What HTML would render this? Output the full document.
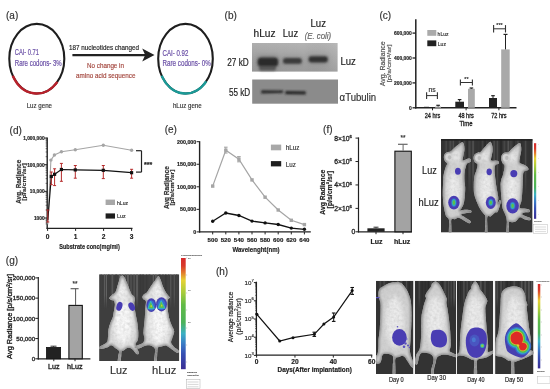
<!DOCTYPE html>
<html><head><meta charset="utf-8"><title>Figure</title>
<style>html,body{margin:0;padding:0;background:#fff;overflow:hidden;} svg{display:block;filter:blur(0.3px);} text{font-family:'Liberation Sans', Arial, sans-serif;}</style>
</head><body>
<svg width="550" height="389" viewBox="0 0 550 389">
<rect width="550" height="389" fill="#fff"/>
<defs><radialGradient id="mfill" cx="0.5" cy="0.45" r="0.62"><stop offset="0" stop-color="#e6e6e6"/><stop offset="0.55" stop-color="#d6d6d6"/><stop offset="0.85" stop-color="#bdbdbd"/><stop offset="1" stop-color="#8e8e8e"/></radialGradient><filter id="soft" x="-5%" y="-5%" width="110%" height="110%"><feGaussianBlur stdDeviation="0.55"/></filter><filter id="soft2" x="-20%" y="-20%" width="140%" height="140%"><feGaussianBlur stdDeviation="0.35"/></filter><filter id="blur2" x="-20%" y="-20%" width="140%" height="140%"><feGaussianBlur stdDeviation="1.1"/></filter><filter id="fur" x="0" y="0" width="100%" height="100%"><feTurbulence type="fractalNoise" baseFrequency="0.35" numOctaves="2" seed="3"/><feColorMatrix type="matrix" values="0 0 0 0 0.5  0 0 0 0 0.5  0 0 0 0 0.5  0.9 0.9 0.9 0 -1.1"/></filter><filter id="blur3" x="-50%" y="-50%" width="200%" height="200%"><feGaussianBlur stdDeviation="2.5"/></filter></defs>
<text x="6.00" y="18.60" font-size="10" fill="#333" stroke="#333" stroke-width="0.18" >(a)</text>
<ellipse cx="36.8" cy="58.7" rx="27.5" ry="34.8" fill="none" stroke="#1e1e1e" stroke-width="2.1"/>
<path d="M57.33,81.85 A27.5,34.8 0 0 1 12.79,75.68" fill="none" stroke="#b8212b" stroke-width="2.5"/>
<text x="14.80" y="54.80" font-size="8.5" fill="#6d53a8" textLength="24.2" lengthAdjust="spacingAndGlyphs" stroke="#6d53a8" stroke-width="0.22" >CAI- 0.71</text>
<text x="14.80" y="65.90" font-size="8.5" fill="#6d53a8" textLength="46.9" lengthAdjust="spacingAndGlyphs" stroke="#6d53a8" stroke-width="0.22" >Rare codons- 3%</text>
<text x="26.70" y="107.80" font-size="8" fill="#333" textLength="25.3" lengthAdjust="spacingAndGlyphs" stroke="#333" stroke-width="0.18" >Luz gene</text>
<text x="69.10" y="49.60" font-size="8.0" fill="#222" textLength="69.8" lengthAdjust="spacingAndGlyphs" stroke="#222" stroke-width="0.18" >187 nucleotides changed</text>
<line x1="72.40" y1="55.10" x2="146.00" y2="55.10" stroke="#222" stroke-width="2.2"/>
<polygon points="142.2,48.6 154.5,55.1 142.2,61.6 145.2,55.1" fill="#222"/>
<text x="87.00" y="68.20" font-size="8.0" fill="#a3463d" textLength="37" lengthAdjust="spacingAndGlyphs" stroke="#a3463d" stroke-width="0.18" >No change in</text>
<text x="76.00" y="78.20" font-size="8.0" fill="#a3463d" textLength="59.5" lengthAdjust="spacingAndGlyphs" stroke="#a3463d" stroke-width="0.18" >amino acid sequence</text>
<ellipse cx="185.5" cy="58.7" rx="27.3" ry="34.8" fill="none" stroke="#1e1e1e" stroke-width="2.1"/>
<path d="M206.23,81.35 A27.3,34.8 0 0 1 161.69,75.73" fill="none" stroke="#1b9a97" stroke-width="2.5"/>
<text x="162.50" y="55.60" font-size="8.5" fill="#6d53a8" textLength="25.8" lengthAdjust="spacingAndGlyphs" stroke="#6d53a8" stroke-width="0.22" >CAI- 0.92</text>
<text x="162.50" y="65.90" font-size="8.5" fill="#6d53a8" textLength="48.3" lengthAdjust="spacingAndGlyphs" stroke="#6d53a8" stroke-width="0.22" >Rare codons- 0%</text>
<text x="172.90" y="107.80" font-size="8" fill="#333" textLength="28.8" lengthAdjust="spacingAndGlyphs" stroke="#333" stroke-width="0.18" >hLuz gene</text>
<text x="224.60" y="18.60" font-size="10" fill="#333" stroke="#333" stroke-width="0.18" >(b)</text>
<text x="253.50" y="37.00" font-size="10.6" fill="#222" textLength="22" lengthAdjust="spacingAndGlyphs" stroke="#222" stroke-width="0.18" >hLuz</text>
<text x="282.80" y="37.00" font-size="10.6" fill="#222" textLength="15.4" lengthAdjust="spacingAndGlyphs" stroke="#222" stroke-width="0.18" >Luz</text>
<text x="310.50" y="27.00" font-size="10.6" fill="#222" textLength="15.5" lengthAdjust="spacingAndGlyphs" stroke="#222" stroke-width="0.18" >Luz</text>
<text x="304.70" y="38.60" font-size="8.6" fill="#666" font-style="italic" textLength="26.5" lengthAdjust="spacingAndGlyphs" stroke="#666" stroke-width="0.18" >(E. coli)</text>
<defs><linearGradient id="blotg" x1="0" y1="0" x2="0" y2="1"><stop offset="0" stop-color="#b3b3b3"/><stop offset="0.4" stop-color="#a8a8a8"/><stop offset="1" stop-color="#9a9a9a"/></linearGradient><filter id="blur3b" x="-30%" y="-80%" width="160%" height="260%"><feGaussianBlur stdDeviation="2"/></filter><linearGradient id="blotg2" x1="0" y1="0" x2="1" y2="0"><stop offset="0" stop-color="#000" stop-opacity="0.03"/><stop offset="0.6" stop-color="#000" stop-opacity="0"/><stop offset="1" stop-color="#fff" stop-opacity="0.08"/></linearGradient><filter id="blur1" x="-20%" y="-50%" width="140%" height="200%"><feGaussianBlur stdDeviation="0.8"/></filter></defs>
<rect x="252.00" y="43.00" width="85.60" height="28.60" fill="url(#blotg)" />
<rect x="252" y="43" width="85.6" height="28.6" fill="url(#blotg2)"/>
<g filter="url(#blur3b)" opacity="0.35">
<rect x="256" y="55" width="24" height="14" rx="5" fill="#666"/>
<rect x="282" y="56" width="21" height="10" rx="4" fill="#777"/>
<rect x="307" y="54.5" width="22" height="10" rx="4" fill="#777"/>
</g>
<g filter="url(#blur1)">
<rect x="257.6" y="57.6" width="20.6" height="9.2" rx="4" fill="#2a2a2a"/>
<rect x="259" y="66" width="17" height="4.6" rx="2" fill="#555"/>
<rect x="283" y="58" width="18.8" height="5.8" rx="2.9" fill="#3a3a3a"/>
<rect x="308.6" y="56.2" width="19.2" height="6.2" rx="3" fill="#303030"/>
</g>
<rect x="252.20" y="79.50" width="85.80" height="24.20" fill="#8b8b8b" />
<g filter="url(#blur1)">
<path d="M261.3,90.2 L283,90.6 L283,93 L261.3,93.4 Z" fill="#252525"/>
<path d="M285.3,91 L305.7,91.2 L305.7,94.4 L285.3,94.2 Z" fill="#252525"/>
</g>
<text x="227.20" y="65.70" font-size="10" fill="#222" textLength="21.5" lengthAdjust="spacingAndGlyphs" stroke="#222" stroke-width="0.18" >27 kD</text>
<text x="229.00" y="95.70" font-size="10" fill="#222" textLength="21.2" lengthAdjust="spacingAndGlyphs" stroke="#222" stroke-width="0.18" >55 kD</text>
<text x="340.40" y="64.70" font-size="10.6" fill="#222" textLength="15.4" lengthAdjust="spacingAndGlyphs" stroke="#222" stroke-width="0.18" >Luz</text>
<text x="339.60" y="101.20" font-size="10.6" fill="#333" textLength="36.6" lengthAdjust="spacingAndGlyphs" stroke="#333" stroke-width="0.18" >αTubulin</text>
<text x="379.40" y="19.20" font-size="10" fill="#333" stroke="#333" stroke-width="0.18" >(c)</text>
<line x1="415.80" y1="19.30" x2="415.80" y2="108.60" stroke="#222" stroke-width="1.5"/>
<line x1="415.10" y1="107.80" x2="516.50" y2="107.80" stroke="#222" stroke-width="1.5"/>
<line x1="412.50" y1="107.80" x2="415.80" y2="107.80" stroke="#222" stroke-width="1.3"/>
<text x="411.80" y="109.80" font-size="5.5" fill="#222" text-anchor="end" font-weight="bold" textLength="2.75" lengthAdjust="spacingAndGlyphs" stroke="#222" stroke-width="0.18" >0</text>
<line x1="412.50" y1="82.90" x2="415.80" y2="82.90" stroke="#222" stroke-width="1.3"/>
<text x="411.80" y="84.90" font-size="5.5" fill="#222" text-anchor="end" font-weight="bold" textLength="17.89" lengthAdjust="spacingAndGlyphs" stroke="#222" stroke-width="0.18" >200,000</text>
<line x1="412.50" y1="58.00" x2="415.80" y2="58.00" stroke="#222" stroke-width="1.3"/>
<text x="411.80" y="60.00" font-size="5.5" fill="#222" text-anchor="end" font-weight="bold" textLength="17.89" lengthAdjust="spacingAndGlyphs" stroke="#222" stroke-width="0.18" >400,000</text>
<line x1="412.50" y1="33.10" x2="415.80" y2="33.10" stroke="#222" stroke-width="1.3"/>
<text x="411.80" y="35.10" font-size="5.5" fill="#222" text-anchor="end" font-weight="bold" textLength="17.89" lengthAdjust="spacingAndGlyphs" stroke="#222" stroke-width="0.18" >600,000</text>
<text x="385.50" y="63.80" font-size="6.6" fill="#555" text-anchor="middle" textLength="45" lengthAdjust="spacingAndGlyphs" transform="rotate(-90 385.50 63.80)" stroke="#555" stroke-width="0.18" >Avg. Radiance</text>
<text x="391.50" y="63.30" font-size="6.2" fill="#555" text-anchor="middle" textLength="38" lengthAdjust="spacingAndGlyphs" transform="rotate(-90 391.50 63.30)" stroke="#555" stroke-width="0.18" >[p/s/cm²/sr]</text>
<rect x="427.30" y="30.00" width="9.00" height="5.80" fill="#aaaaaa" />
<text x="437.60" y="35.50" font-size="5.6" fill="#333" textLength="11" lengthAdjust="spacingAndGlyphs" stroke="#333" stroke-width="0.18" >hLuz</text>
<rect x="427.30" y="40.40" width="9.00" height="5.80" fill="#222" />
<text x="437.80" y="45.80" font-size="5.6" fill="#333" textLength="8.2" lengthAdjust="spacingAndGlyphs" stroke="#333" stroke-width="0.18" >Luz</text>
<rect x="424.00" y="106.80" width="5.00" height="1.00" fill="#222" />
<rect x="435.20" y="106.60" width="5.80" height="1.20" fill="#a9a9a9" />
<line x1="438.10" y1="105.30" x2="438.10" y2="106.60" stroke="#222" stroke-width="1"/>
<line x1="436.30" y1="105.30" x2="439.90" y2="105.30" stroke="#222" stroke-width="1.2"/>
<rect x="455.30" y="101.70" width="8.70" height="6.10" fill="#222" />
<line x1="459.60" y1="99.60" x2="459.60" y2="101.70" stroke="#222" stroke-width="1"/>
<line x1="457.80" y1="99.60" x2="461.40" y2="99.60" stroke="#222" stroke-width="1.2"/>
<rect x="468.00" y="88.80" width="6.80" height="19.00" fill="#a9a9a9" />
<line x1="471.40" y1="88.00" x2="471.40" y2="88.80" stroke="#222" stroke-width="1"/>
<line x1="469.60" y1="88.00" x2="473.20" y2="88.00" stroke="#222" stroke-width="1.2"/>
<rect x="489.00" y="98.00" width="8.00" height="9.80" fill="#222" />
<line x1="493.00" y1="95.70" x2="493.00" y2="98.00" stroke="#222" stroke-width="1"/>
<line x1="491.20" y1="95.70" x2="494.80" y2="95.70" stroke="#222" stroke-width="1.2"/>
<rect x="501.20" y="49.40" width="8.50" height="58.40" fill="#a9a9a9" />
<line x1="505.50" y1="34.40" x2="505.50" y2="49.40" stroke="#222" stroke-width="1"/>
<line x1="503.50" y1="34.40" x2="507.50" y2="34.40" stroke="#222" stroke-width="1.2"/>
<line x1="426.60" y1="95.60" x2="437.40" y2="95.60" stroke="#333" stroke-width="1"/>
<line x1="426.60" y1="92.20" x2="426.60" y2="99.00" stroke="#333" stroke-width="1.1"/>
<line x1="437.40" y1="92.20" x2="437.40" y2="99.00" stroke="#333" stroke-width="1.1"/>
<text x="432.00" y="91.60" font-size="6.8" fill="#333" text-anchor="middle" stroke="#333" stroke-width="0.18" >ns</text>
<line x1="460.40" y1="82.50" x2="472.40" y2="82.50" stroke="#333" stroke-width="1"/>
<line x1="460.40" y1="79.40" x2="460.40" y2="85.60" stroke="#333" stroke-width="1.1"/>
<line x1="472.40" y1="79.40" x2="472.40" y2="85.60" stroke="#333" stroke-width="1.1"/>
<text x="466.40" y="81.00" font-size="5.5" fill="#333" text-anchor="middle" stroke="#333" stroke-width="0.18" >**</text>
<line x1="493.60" y1="28.80" x2="505.50" y2="28.80" stroke="#333" stroke-width="1"/>
<line x1="493.60" y1="25.10" x2="493.60" y2="32.50" stroke="#333" stroke-width="1.1"/>
<line x1="505.50" y1="25.10" x2="505.50" y2="32.50" stroke="#333" stroke-width="1.1"/>
<text x="499.55" y="26.60" font-size="5.5" fill="#333" text-anchor="middle" stroke="#333" stroke-width="0.18" >***</text>
<line x1="432.50" y1="107.80" x2="432.50" y2="110.30" stroke="#222" stroke-width="1"/>
<text x="432.50" y="117.60" font-size="6.3" fill="#222" text-anchor="middle" textLength="15.41" lengthAdjust="spacingAndGlyphs" stroke="#222" stroke-width="0.3" >24 hrs</text>
<line x1="466.10" y1="107.80" x2="466.10" y2="110.30" stroke="#222" stroke-width="1"/>
<text x="466.10" y="117.60" font-size="6.3" fill="#222" text-anchor="middle" textLength="15.41" lengthAdjust="spacingAndGlyphs" stroke="#222" stroke-width="0.3" >48 hrs</text>
<line x1="498.90" y1="107.80" x2="498.90" y2="110.30" stroke="#222" stroke-width="1"/>
<text x="498.90" y="117.60" font-size="6.3" fill="#222" text-anchor="middle" textLength="15.41" lengthAdjust="spacingAndGlyphs" stroke="#222" stroke-width="0.3" >72 hrs</text>
<text x="466.00" y="125.60" font-size="7.0" fill="#222" text-anchor="middle" textLength="13.0" lengthAdjust="spacingAndGlyphs" stroke="#222" stroke-width="0.3" >Time</text>
<text x="9.60" y="133.50" font-size="10" fill="#333" stroke="#333" stroke-width="0.18" >(d)</text>
<line x1="47.20" y1="137.40" x2="47.20" y2="229.10" stroke="#222" stroke-width="1.4"/>
<line x1="46.60" y1="228.40" x2="132.50" y2="228.40" stroke="#222" stroke-width="1.4"/>
<line x1="45.60" y1="223.91" x2="47.20" y2="223.91" stroke="#222" stroke-width="0.6"/>
<line x1="45.60" y1="222.13" x2="47.20" y2="222.13" stroke="#222" stroke-width="0.6"/>
<line x1="45.60" y1="220.58" x2="47.20" y2="220.58" stroke="#222" stroke-width="0.6"/>
<line x1="45.60" y1="219.22" x2="47.20" y2="219.22" stroke="#222" stroke-width="0.6"/>
<line x1="44.20" y1="218.00" x2="47.20" y2="218.00" stroke="#222" stroke-width="1"/>
<line x1="45.60" y1="209.98" x2="47.20" y2="209.98" stroke="#222" stroke-width="0.6"/>
<line x1="45.60" y1="205.28" x2="47.20" y2="205.28" stroke="#222" stroke-width="0.6"/>
<line x1="45.60" y1="201.96" x2="47.20" y2="201.96" stroke="#222" stroke-width="0.6"/>
<line x1="45.60" y1="199.37" x2="47.20" y2="199.37" stroke="#222" stroke-width="0.6"/>
<line x1="45.60" y1="197.26" x2="47.20" y2="197.26" stroke="#222" stroke-width="0.6"/>
<line x1="45.60" y1="195.48" x2="47.20" y2="195.48" stroke="#222" stroke-width="0.6"/>
<line x1="45.60" y1="193.93" x2="47.20" y2="193.93" stroke="#222" stroke-width="0.6"/>
<line x1="45.60" y1="192.57" x2="47.20" y2="192.57" stroke="#222" stroke-width="0.6"/>
<line x1="44.20" y1="191.35" x2="47.20" y2="191.35" stroke="#222" stroke-width="1"/>
<line x1="45.60" y1="183.33" x2="47.20" y2="183.33" stroke="#222" stroke-width="0.6"/>
<line x1="45.60" y1="178.63" x2="47.20" y2="178.63" stroke="#222" stroke-width="0.6"/>
<line x1="45.60" y1="175.31" x2="47.20" y2="175.31" stroke="#222" stroke-width="0.6"/>
<line x1="45.60" y1="172.72" x2="47.20" y2="172.72" stroke="#222" stroke-width="0.6"/>
<line x1="45.60" y1="170.61" x2="47.20" y2="170.61" stroke="#222" stroke-width="0.6"/>
<line x1="45.60" y1="168.83" x2="47.20" y2="168.83" stroke="#222" stroke-width="0.6"/>
<line x1="45.60" y1="167.28" x2="47.20" y2="167.28" stroke="#222" stroke-width="0.6"/>
<line x1="45.60" y1="165.92" x2="47.20" y2="165.92" stroke="#222" stroke-width="0.6"/>
<line x1="44.20" y1="164.70" x2="47.20" y2="164.70" stroke="#222" stroke-width="1"/>
<line x1="45.60" y1="156.68" x2="47.20" y2="156.68" stroke="#222" stroke-width="0.6"/>
<line x1="45.60" y1="151.98" x2="47.20" y2="151.98" stroke="#222" stroke-width="0.6"/>
<line x1="45.60" y1="148.66" x2="47.20" y2="148.66" stroke="#222" stroke-width="0.6"/>
<line x1="45.60" y1="146.07" x2="47.20" y2="146.07" stroke="#222" stroke-width="0.6"/>
<line x1="45.60" y1="143.96" x2="47.20" y2="143.96" stroke="#222" stroke-width="0.6"/>
<line x1="45.60" y1="142.18" x2="47.20" y2="142.18" stroke="#222" stroke-width="0.6"/>
<line x1="45.60" y1="140.63" x2="47.20" y2="140.63" stroke="#222" stroke-width="0.6"/>
<line x1="45.60" y1="139.27" x2="47.20" y2="139.27" stroke="#222" stroke-width="0.6"/>
<line x1="44.20" y1="138.05" x2="47.20" y2="138.05" stroke="#222" stroke-width="1"/>
<text x="44.60" y="140.05" font-size="5.6" fill="#222" text-anchor="end" font-weight="bold" textLength="21.43" lengthAdjust="spacingAndGlyphs" stroke="#222" stroke-width="0.18" >1,000,000</text>
<text x="44.60" y="166.70" font-size="5.6" fill="#222" text-anchor="end" font-weight="bold" textLength="17.41" lengthAdjust="spacingAndGlyphs" stroke="#222" stroke-width="0.18" >100,000</text>
<text x="44.60" y="193.35" font-size="5.6" fill="#222" text-anchor="end" font-weight="bold" textLength="14.73" lengthAdjust="spacingAndGlyphs" stroke="#222" stroke-width="0.18" >10,000</text>
<text x="44.60" y="220.00" font-size="5.6" fill="#222" text-anchor="end" font-weight="bold" textLength="10.71" lengthAdjust="spacingAndGlyphs" stroke="#222" stroke-width="0.18" >1000</text>
<line x1="47.60" y1="228.40" x2="47.60" y2="230.90" stroke="#222" stroke-width="1"/>
<text x="47.60" y="239.00" font-size="6.6" fill="#222" text-anchor="middle" font-weight="bold" stroke="#222" stroke-width="0.18" >0</text>
<line x1="75.60" y1="228.40" x2="75.60" y2="230.90" stroke="#222" stroke-width="1"/>
<text x="75.60" y="239.00" font-size="6.6" fill="#222" text-anchor="middle" font-weight="bold" stroke="#222" stroke-width="0.18" >1</text>
<line x1="103.60" y1="228.40" x2="103.60" y2="230.90" stroke="#222" stroke-width="1"/>
<text x="103.60" y="239.00" font-size="6.6" fill="#222" text-anchor="middle" font-weight="bold" stroke="#222" stroke-width="0.18" >2</text>
<line x1="131.60" y1="228.40" x2="131.60" y2="230.90" stroke="#222" stroke-width="1"/>
<text x="131.60" y="239.00" font-size="6.6" fill="#222" text-anchor="middle" font-weight="bold" stroke="#222" stroke-width="0.18" >3</text>
<text x="89.50" y="249.20" font-size="7.4" fill="#222" text-anchor="middle" font-weight="bold" textLength="60.6" lengthAdjust="spacingAndGlyphs" stroke="#222" stroke-width="0.18" >Substrate conc(mg/ml)</text>
<text x="20.90" y="181.80" font-size="6.4" fill="#333" text-anchor="middle" font-weight="bold" textLength="44" lengthAdjust="spacingAndGlyphs" transform="rotate(-90 20.90 181.80)" stroke="#333" stroke-width="0.18" >Avg. Radiance</text>
<text x="26.20" y="182.00" font-size="6.0" fill="#333" text-anchor="middle" font-weight="bold" textLength="37.6" lengthAdjust="spacingAndGlyphs" transform="rotate(-90 26.20 182.00)" stroke="#333" stroke-width="0.18" >[p/s/cm²/sr]</text>
<rect x="105.60" y="199.60" width="9.40" height="5.40" fill="#a8a8a8" />
<text x="117.00" y="204.60" font-size="5.8" fill="#333" textLength="11" lengthAdjust="spacingAndGlyphs" stroke="#333" stroke-width="0.18" >hLuz</text>
<rect x="105.60" y="213.40" width="9.40" height="5.20" fill="#1e1e1e" />
<text x="117.00" y="218.40" font-size="5.8" fill="#333" textLength="8.6" lengthAdjust="spacingAndGlyphs" stroke="#333" stroke-width="0.18" >Luz</text>
<polyline points="47.8,224.4 50.9,160.1 54.4,155.0 61.4,151.8 75.3,149.8 103.3,145.3 131.6,150.3" fill="none" stroke="#a5a5a5" stroke-width="1.1"/>
<circle cx="50.9" cy="160.1" r="1.7" fill="#a5a5a5"/>
<circle cx="54.4" cy="155" r="1.7" fill="#a5a5a5"/>
<circle cx="61.4" cy="151.8" r="1.7" fill="#a5a5a5"/>
<circle cx="75.3" cy="149.8" r="1.7" fill="#a5a5a5"/>
<circle cx="103.3" cy="145.3" r="1.7" fill="#a5a5a5"/>
<circle cx="131.6" cy="150.3" r="1.7" fill="#a5a5a5"/>
<polyline points="47.8,220.0 51.3,176.5 54.6,174.3 61.4,169.5 75.3,169.9 103.3,170.3 131.6,172.7" fill="none" stroke="#111" stroke-width="1.2"/>
<line x1="47.80" y1="210.00" x2="47.80" y2="222.00" stroke="#b52a2a" stroke-width="1"/>
<line x1="46.30" y1="210.00" x2="49.30" y2="210.00" stroke="#b52a2a" stroke-width="1"/>
<line x1="46.30" y1="222.00" x2="49.30" y2="222.00" stroke="#b52a2a" stroke-width="1"/>
<line x1="51.30" y1="172.00" x2="51.30" y2="184.70" stroke="#b52a2a" stroke-width="1"/>
<line x1="49.80" y1="172.00" x2="52.80" y2="172.00" stroke="#b52a2a" stroke-width="1"/>
<line x1="49.80" y1="184.70" x2="52.80" y2="184.70" stroke="#b52a2a" stroke-width="1"/>
<line x1="54.60" y1="168.80" x2="54.60" y2="185.60" stroke="#b52a2a" stroke-width="1"/>
<line x1="53.10" y1="168.80" x2="56.10" y2="168.80" stroke="#b52a2a" stroke-width="1"/>
<line x1="53.10" y1="185.60" x2="56.10" y2="185.60" stroke="#b52a2a" stroke-width="1"/>
<line x1="61.40" y1="163.40" x2="61.40" y2="181.30" stroke="#b52a2a" stroke-width="1"/>
<line x1="59.90" y1="163.40" x2="62.90" y2="163.40" stroke="#b52a2a" stroke-width="1"/>
<line x1="59.90" y1="181.30" x2="62.90" y2="181.30" stroke="#b52a2a" stroke-width="1"/>
<line x1="75.30" y1="165.50" x2="75.30" y2="178.20" stroke="#b52a2a" stroke-width="1"/>
<line x1="73.80" y1="165.50" x2="76.80" y2="165.50" stroke="#b52a2a" stroke-width="1"/>
<line x1="73.80" y1="178.20" x2="76.80" y2="178.20" stroke="#b52a2a" stroke-width="1"/>
<line x1="103.30" y1="165.50" x2="103.30" y2="178.60" stroke="#b52a2a" stroke-width="1"/>
<line x1="101.80" y1="165.50" x2="104.80" y2="165.50" stroke="#b52a2a" stroke-width="1"/>
<line x1="101.80" y1="178.60" x2="104.80" y2="178.60" stroke="#b52a2a" stroke-width="1"/>
<line x1="131.60" y1="169.30" x2="131.60" y2="178.20" stroke="#b52a2a" stroke-width="1"/>
<line x1="130.10" y1="169.30" x2="133.10" y2="169.30" stroke="#b52a2a" stroke-width="1"/>
<line x1="130.10" y1="178.20" x2="133.10" y2="178.20" stroke="#b52a2a" stroke-width="1"/>
<rect x="49.70" y="174.90" width="3.20" height="3.20" fill="#111" />
<rect x="53.00" y="172.70" width="3.20" height="3.20" fill="#111" />
<rect x="59.80" y="167.90" width="3.20" height="3.20" fill="#111" />
<rect x="73.70" y="168.30" width="3.20" height="3.20" fill="#111" />
<rect x="101.70" y="168.70" width="3.20" height="3.20" fill="#111" />
<rect x="130.00" y="171.10" width="3.20" height="3.20" fill="#111" />
<line x1="141.50" y1="150.70" x2="141.50" y2="172.10" stroke="#222" stroke-width="1.2"/>
<line x1="136.00" y1="150.70" x2="141.50" y2="150.70" stroke="#222" stroke-width="1.2"/>
<line x1="136.00" y1="172.10" x2="141.50" y2="172.10" stroke="#222" stroke-width="1.2"/>
<text x="148.20" y="166.60" font-size="7" fill="#222" text-anchor="middle" font-weight="bold" stroke="#222" stroke-width="0.18" >***</text>
<text x="164.70" y="133.30" font-size="10" fill="#333" stroke="#333" stroke-width="0.18" >(e)</text>
<line x1="199.60" y1="141.20" x2="199.60" y2="232.60" stroke="#222" stroke-width="1.4"/>
<line x1="199.00" y1="231.90" x2="310.80" y2="231.90" stroke="#222" stroke-width="1.4"/>
<line x1="196.60" y1="231.90" x2="199.60" y2="231.90" stroke="#222" stroke-width="1"/>
<text x="196.30" y="233.90" font-size="5.6" fill="#222" text-anchor="end" font-weight="bold" textLength="2.96" lengthAdjust="spacingAndGlyphs" stroke="#222" stroke-width="0.18" >0</text>
<line x1="196.60" y1="209.35" x2="199.60" y2="209.35" stroke="#222" stroke-width="1"/>
<text x="196.30" y="211.35" font-size="5.6" fill="#222" text-anchor="end" font-weight="bold" textLength="16.27" lengthAdjust="spacingAndGlyphs" stroke="#222" stroke-width="0.18" >50,000</text>
<line x1="196.60" y1="186.80" x2="199.60" y2="186.80" stroke="#222" stroke-width="1"/>
<text x="196.30" y="188.80" font-size="5.6" fill="#222" text-anchor="end" font-weight="bold" textLength="19.23" lengthAdjust="spacingAndGlyphs" stroke="#222" stroke-width="0.18" >100,000</text>
<line x1="196.60" y1="164.25" x2="199.60" y2="164.25" stroke="#222" stroke-width="1"/>
<text x="196.30" y="166.25" font-size="5.6" fill="#222" text-anchor="end" font-weight="bold" textLength="19.23" lengthAdjust="spacingAndGlyphs" stroke="#222" stroke-width="0.18" >150,000</text>
<line x1="196.60" y1="141.70" x2="199.60" y2="141.70" stroke="#222" stroke-width="1"/>
<text x="196.30" y="143.70" font-size="5.6" fill="#222" text-anchor="end" font-weight="bold" textLength="19.23" lengthAdjust="spacingAndGlyphs" stroke="#222" stroke-width="0.18" >200,000</text>
<line x1="212.70" y1="231.90" x2="212.70" y2="234.40" stroke="#222" stroke-width="1"/>
<text x="212.70" y="241.80" font-size="6.1" fill="#222" text-anchor="middle" font-weight="bold" stroke="#222" stroke-width="0.18" >500</text>
<line x1="225.80" y1="231.90" x2="225.80" y2="234.40" stroke="#222" stroke-width="1"/>
<text x="225.80" y="241.80" font-size="6.1" fill="#222" text-anchor="middle" font-weight="bold" stroke="#222" stroke-width="0.18" >520</text>
<line x1="238.90" y1="231.90" x2="238.90" y2="234.40" stroke="#222" stroke-width="1"/>
<text x="238.90" y="241.80" font-size="6.1" fill="#222" text-anchor="middle" font-weight="bold" stroke="#222" stroke-width="0.18" >540</text>
<line x1="252.00" y1="231.90" x2="252.00" y2="234.40" stroke="#222" stroke-width="1"/>
<text x="252.00" y="241.80" font-size="6.1" fill="#222" text-anchor="middle" font-weight="bold" stroke="#222" stroke-width="0.18" >560</text>
<line x1="265.10" y1="231.90" x2="265.10" y2="234.40" stroke="#222" stroke-width="1"/>
<text x="265.10" y="241.80" font-size="6.1" fill="#222" text-anchor="middle" font-weight="bold" stroke="#222" stroke-width="0.18" >580</text>
<line x1="278.20" y1="231.90" x2="278.20" y2="234.40" stroke="#222" stroke-width="1"/>
<text x="278.20" y="241.80" font-size="6.1" fill="#222" text-anchor="middle" font-weight="bold" stroke="#222" stroke-width="0.18" >600</text>
<line x1="291.30" y1="231.90" x2="291.30" y2="234.40" stroke="#222" stroke-width="1"/>
<text x="291.30" y="241.80" font-size="6.1" fill="#222" text-anchor="middle" font-weight="bold" stroke="#222" stroke-width="0.18" >620</text>
<line x1="304.40" y1="231.90" x2="304.40" y2="234.40" stroke="#222" stroke-width="1"/>
<text x="304.40" y="241.80" font-size="6.1" fill="#222" text-anchor="middle" font-weight="bold" stroke="#222" stroke-width="0.18" >640</text>
<text x="256.00" y="251.80" font-size="7.7" fill="#222" text-anchor="middle" font-weight="bold" textLength="47.2" lengthAdjust="spacingAndGlyphs" stroke="#222" stroke-width="0.18" >Wavelenght(nm)</text>
<text x="168.70" y="187.60" font-size="6.4" fill="#333" text-anchor="middle" font-weight="bold" textLength="42.8" lengthAdjust="spacingAndGlyphs" transform="rotate(-90 168.70 187.60)" stroke="#333" stroke-width="0.18" >Avg Radiance</text>
<text x="174.40" y="187.60" font-size="6.0" fill="#333" text-anchor="middle" font-weight="bold" textLength="36" lengthAdjust="spacingAndGlyphs" transform="rotate(-90 174.40 187.60)" stroke="#333" stroke-width="0.18" >[p/s/cm²/sr]</text>
<polyline points="212.7,186.1 225.8,150.2 238.9,159.2 252.0,179.9 265.1,197.2 278.2,210.0 291.3,220.3 304.4,224.6" fill="none" stroke="#a5a5a5" stroke-width="1.2"/>
<rect x="211.00" y="184.40" width="3.40" height="3.40" fill="#a5a5a5" />
<rect x="224.10" y="148.50" width="3.40" height="3.40" fill="#a5a5a5" />
<rect x="237.20" y="157.50" width="3.40" height="3.40" fill="#a5a5a5" />
<rect x="250.30" y="178.20" width="3.40" height="3.40" fill="#a5a5a5" />
<rect x="263.40" y="195.50" width="3.40" height="3.40" fill="#a5a5a5" />
<rect x="276.50" y="208.30" width="3.40" height="3.40" fill="#a5a5a5" />
<rect x="289.60" y="218.60" width="3.40" height="3.40" fill="#a5a5a5" />
<rect x="302.70" y="222.90" width="3.40" height="3.40" fill="#a5a5a5" />
<line x1="225.80" y1="147.20" x2="225.80" y2="153.00" stroke="#a5a5a5" stroke-width="1"/>
<line x1="224.00" y1="147.20" x2="227.60" y2="147.20" stroke="#a5a5a5" stroke-width="1.1"/>
<line x1="224.00" y1="153.00" x2="227.60" y2="153.00" stroke="#a5a5a5" stroke-width="1.1"/>
<line x1="238.90" y1="156.60" x2="238.90" y2="161.80" stroke="#a5a5a5" stroke-width="1"/>
<line x1="237.10" y1="156.60" x2="240.70" y2="156.60" stroke="#a5a5a5" stroke-width="1.1"/>
<line x1="237.10" y1="161.80" x2="240.70" y2="161.80" stroke="#a5a5a5" stroke-width="1.1"/>
<polyline points="212.7,221.2 225.8,213.0 238.9,215.5 252.0,221.1 265.1,222.9 278.2,224.5 291.3,228.1 304.4,229.3" fill="none" stroke="#111" stroke-width="1.3"/>
<circle cx="212.7" cy="221.2" r="1.7" fill="#111"/>
<circle cx="225.8" cy="213" r="1.7" fill="#111"/>
<circle cx="238.9" cy="215.5" r="1.7" fill="#111"/>
<circle cx="252.0" cy="221.1" r="1.7" fill="#111"/>
<circle cx="265.1" cy="222.9" r="1.7" fill="#111"/>
<circle cx="278.2" cy="224.5" r="1.7" fill="#111"/>
<circle cx="291.3" cy="228.1" r="1.7" fill="#111"/>
<circle cx="304.4" cy="229.3" r="1.7" fill="#111"/>
<rect x="270.90" y="144.60" width="10.30" height="5.70" fill="#a8a8a8" />
<text x="285.80" y="150.20" font-size="7" fill="#333" textLength="13.6" lengthAdjust="spacingAndGlyphs" stroke="#333" stroke-width="0.18" >hLuz</text>
<rect x="270.90" y="161.10" width="10.30" height="5.30" fill="#1e1e1e" />
<text x="285.80" y="166.50" font-size="7" fill="#333" textLength="10" lengthAdjust="spacingAndGlyphs" stroke="#333" stroke-width="0.18" >Luz</text>
<text x="323.10" y="133.20" font-size="10" fill="#333" stroke="#333" stroke-width="0.18" >(f)</text>
<line x1="358.50" y1="137.40" x2="358.50" y2="232.40" stroke="#222" stroke-width="1.2"/>
<line x1="357.90" y1="231.80" x2="411.90" y2="231.80" stroke="#222" stroke-width="1.2"/>
<line x1="355.50" y1="231.80" x2="358.50" y2="231.80" stroke="#222" stroke-width="1"/>
<text x="355.20" y="234.20" font-size="6.8" fill="#222" text-anchor="end" stroke="#222" stroke-width="0.3" >0</text>
<line x1="355.50" y1="208.38" x2="358.50" y2="208.38" stroke="#222" stroke-width="1"/>
<text x="351.8" y="210.78" font-size="6.8" fill="#222" stroke="#222" stroke-width="0.3" text-anchor="end">2×10<tspan font-size="4.2" dy="-2.8">6</tspan></text>
<line x1="355.50" y1="184.95" x2="358.50" y2="184.95" stroke="#222" stroke-width="1"/>
<text x="351.8" y="187.35" font-size="6.8" fill="#222" stroke="#222" stroke-width="0.3" text-anchor="end">4×10<tspan font-size="4.2" dy="-2.8">6</tspan></text>
<line x1="355.50" y1="161.53" x2="358.50" y2="161.53" stroke="#222" stroke-width="1"/>
<text x="351.8" y="163.93" font-size="6.8" fill="#222" stroke="#222" stroke-width="0.3" text-anchor="end">6×10<tspan font-size="4.2" dy="-2.8">6</tspan></text>
<line x1="355.50" y1="138.10" x2="358.50" y2="138.10" stroke="#222" stroke-width="1"/>
<text x="351.8" y="140.50" font-size="6.8" fill="#222" stroke="#222" stroke-width="0.3" text-anchor="end">8×10<tspan font-size="4.2" dy="-2.8">6</tspan></text>
<rect x="367.40" y="228.30" width="17.20" height="3.50" fill="#222" />
<line x1="376.00" y1="227.20" x2="376.00" y2="228.30" stroke="#333" stroke-width="1"/>
<line x1="373.50" y1="227.20" x2="378.50" y2="227.20" stroke="#333" stroke-width="1"/>
<rect x="394.90" y="151.20" width="16.40" height="80.60" fill="#a3a3a3" stroke="#111" stroke-width="1.1" />
<line x1="403.10" y1="144.30" x2="403.10" y2="150.70" stroke="#666" stroke-width="1"/>
<line x1="398.00" y1="144.30" x2="407.60" y2="144.30" stroke="#666" stroke-width="1.2"/>
<text x="403.00" y="140.40" font-size="6.4" fill="#333" text-anchor="middle" stroke="#333" stroke-width="0.18" >**</text>
<line x1="376.00" y1="231.80" x2="376.00" y2="234.20" stroke="#222" stroke-width="1"/>
<line x1="403.00" y1="231.80" x2="403.00" y2="234.20" stroke="#222" stroke-width="1"/>
<text x="376.50" y="243.60" font-size="7" fill="#222" text-anchor="middle" font-weight="bold" stroke="#222" stroke-width="0.18" >Luz</text>
<text x="402.20" y="243.60" font-size="7" fill="#222" text-anchor="middle" font-weight="bold" stroke="#222" stroke-width="0.18" >hLuz</text>
<text x="325.30" y="192.20" font-size="7.8" fill="#222" text-anchor="middle" font-weight="bold" textLength="45" lengthAdjust="spacingAndGlyphs" transform="rotate(-90 325.30 192.20)" stroke="#222" stroke-width="0.18" >Avg Radiance</text>
<text x="332.30" y="189.80" font-size="7.4" fill="#222" text-anchor="middle" font-weight="bold" textLength="37.6" lengthAdjust="spacingAndGlyphs" transform="rotate(-90 332.30 189.80)" stroke="#222" stroke-width="0.18" >[p/s/cm²/sr]</text>
<clipPath id="cpf"><rect x="441" y="139.1" width="91.60000000000002" height="93.5"/></clipPath>
<g clip-path="url(#cpf)">
<rect x="441.00" y="139.10" width="91.60" height="93.50" fill="#363636" />
<defs><linearGradient id="fade279g" x1="0" y1="0" x2="0" y2="1"><stop offset="0" stop-color="#fff"/><stop offset="0.36" stop-color="#fff"/><stop offset="0.60" stop-color="#000"/></linearGradient><mask id="fade279"><rect x="441" y="139.1" width="91.60000000000002" height="93.5" fill="url(#fade279g)"/></mask></defs>
<g mask="url(#fade279)"><g filter="url(#soft2)">
<rect x="441.52" y="139.10" width="1.78" height="93.50" fill="#303030"/>
<rect x="445.32" y="139.10" width="1.79" height="93.50" fill="#454545"/>
<rect x="449.47" y="139.10" width="1.88" height="93.50" fill="#4a4a4a"/>
<rect x="452.61" y="139.10" width="1.25" height="93.50" fill="#525252"/>
<rect x="455.61" y="139.10" width="1.68" height="93.50" fill="#303030"/>
<rect x="458.82" y="139.10" width="1.51" height="93.50" fill="#4a4a4a"/>
<rect x="461.23" y="139.10" width="1.74" height="93.50" fill="#2a2a2a"/>
<rect x="463.88" y="139.10" width="1.38" height="93.50" fill="#454545"/>
<rect x="466.66" y="139.10" width="1.04" height="93.50" fill="#2a2a2a"/>
<rect x="468.52" y="139.10" width="2.17" height="93.50" fill="#454545"/>
<rect x="472.29" y="139.10" width="1.56" height="93.50" fill="#525252"/>
<rect x="475.95" y="139.10" width="2.07" height="93.50" fill="#303030"/>
<rect x="478.86" y="139.10" width="1.94" height="93.50" fill="#303030"/>
<rect x="482.20" y="139.10" width="1.04" height="93.50" fill="#454545"/>
<rect x="484.21" y="139.10" width="1.51" height="93.50" fill="#2c2c2c"/>
<rect x="487.68" y="139.10" width="1.77" height="93.50" fill="#303030"/>
<rect x="490.59" y="139.10" width="1.60" height="93.50" fill="#2a2a2a"/>
<rect x="493.36" y="139.10" width="1.73" height="93.50" fill="#4a4a4a"/>
<rect x="496.69" y="139.10" width="1.28" height="93.50" fill="#4a4a4a"/>
<rect x="499.91" y="139.10" width="2.12" height="93.50" fill="#2a2a2a"/>
<rect x="503.48" y="139.10" width="1.84" height="93.50" fill="#454545"/>
<rect x="507.43" y="139.10" width="1.78" height="93.50" fill="#525252"/>
<rect x="510.25" y="139.10" width="1.32" height="93.50" fill="#454545"/>
<rect x="513.60" y="139.10" width="1.36" height="93.50" fill="#2a2a2a"/>
<rect x="517.16" y="139.10" width="1.80" height="93.50" fill="#454545"/>
<rect x="521.16" y="139.10" width="2.09" height="93.50" fill="#303030"/>
<rect x="524.89" y="139.10" width="1.40" height="93.50" fill="#4a4a4a"/>
<rect x="527.80" y="139.10" width="2.10" height="93.50" fill="#303030"/>
<rect x="532.19" y="139.10" width="1.21" height="93.50" fill="#454545"/>
</g></g>
<rect x="441.00" y="139.10" width="91.60" height="1.60" fill="#222" />
<g filter="url(#soft)">
<clipPath id="mc1"><path d="M462.60,142.20 C463.57,142.53 464.03,144.95 464.30,146.50 C464.57,148.05 464.38,149.83 464.20,151.50 C464.02,153.17 463.40,155.00 463.20,156.50 C463.00,158.00 462.12,160.15 463.00,160.50 C463.88,160.85 467.20,158.75 468.50,158.60 C469.80,158.45 470.45,159.07 470.80,159.60 C471.15,160.13 471.20,161.13 470.60,161.80 C470.00,162.47 468.03,162.65 467.20,163.60 C466.37,164.55 466.03,166.10 465.60,167.50 C465.17,168.90 464.80,169.92 464.60,172.00 C464.40,174.08 464.30,177.33 464.40,180.00 C464.50,182.67 465.15,185.17 465.20,188.00 C465.25,190.83 464.97,194.33 464.70,197.00 C464.43,199.67 464.15,202.08 463.60,204.00 C463.05,205.92 462.00,207.42 461.40,208.50 C460.80,209.58 459.23,210.28 460.00,210.50 C460.77,210.72 464.17,209.78 466.00,209.80 C467.83,209.82 470.20,210.10 471.00,210.60 C471.80,211.10 471.72,212.37 470.80,212.80 C469.88,213.23 467.13,212.90 465.50,213.20 C463.87,213.50 461.00,213.83 461.00,214.60 C461.00,215.37 463.93,216.73 465.50,217.80 C467.07,218.87 469.68,220.10 470.40,221.00 C471.12,221.90 470.62,223.13 469.80,223.20 C468.98,223.27 467.38,222.30 465.50,221.40 C463.62,220.50 460.25,218.17 458.50,217.80 C456.75,217.43 456.18,218.90 455.00,219.20 C453.82,219.50 452.02,218.47 451.40,219.60 C450.78,220.73 451.33,223.68 451.30,226.00 C451.27,228.32 451.58,232.25 451.20,233.50 C450.82,234.75 449.37,234.75 449.00,233.50 C448.63,232.25 449.03,228.38 449.00,226.00 C448.97,223.62 449.22,220.73 448.80,219.20 C448.38,217.67 447.10,217.75 446.50,216.80 C445.90,215.85 445.72,215.63 445.20,213.50 C444.68,211.37 443.80,207.08 443.40,204.00 C443.00,200.92 442.87,198.17 442.80,195.00 C442.73,191.83 442.87,188.30 443.00,185.00 C443.13,181.70 443.20,178.03 443.60,175.20 C444.00,172.37 444.80,169.93 445.40,168.00 C446.00,166.07 447.23,164.70 447.20,163.60 C447.17,162.50 445.75,162.33 445.20,161.40 C444.65,160.47 444.00,159.20 443.90,158.00 C443.80,156.80 444.00,155.15 444.60,154.20 C445.20,153.25 446.52,152.75 447.50,152.30 C448.48,151.85 449.42,152.18 450.50,151.50 C451.58,150.82 452.67,149.37 454.00,148.20 C455.33,147.03 457.07,145.50 458.50,144.50 C459.93,143.50 461.63,141.87 462.60,142.20 Z"/></clipPath>
<path d="M462.60,142.20 C463.57,142.53 464.03,144.95 464.30,146.50 C464.57,148.05 464.38,149.83 464.20,151.50 C464.02,153.17 463.40,155.00 463.20,156.50 C463.00,158.00 462.12,160.15 463.00,160.50 C463.88,160.85 467.20,158.75 468.50,158.60 C469.80,158.45 470.45,159.07 470.80,159.60 C471.15,160.13 471.20,161.13 470.60,161.80 C470.00,162.47 468.03,162.65 467.20,163.60 C466.37,164.55 466.03,166.10 465.60,167.50 C465.17,168.90 464.80,169.92 464.60,172.00 C464.40,174.08 464.30,177.33 464.40,180.00 C464.50,182.67 465.15,185.17 465.20,188.00 C465.25,190.83 464.97,194.33 464.70,197.00 C464.43,199.67 464.15,202.08 463.60,204.00 C463.05,205.92 462.00,207.42 461.40,208.50 C460.80,209.58 459.23,210.28 460.00,210.50 C460.77,210.72 464.17,209.78 466.00,209.80 C467.83,209.82 470.20,210.10 471.00,210.60 C471.80,211.10 471.72,212.37 470.80,212.80 C469.88,213.23 467.13,212.90 465.50,213.20 C463.87,213.50 461.00,213.83 461.00,214.60 C461.00,215.37 463.93,216.73 465.50,217.80 C467.07,218.87 469.68,220.10 470.40,221.00 C471.12,221.90 470.62,223.13 469.80,223.20 C468.98,223.27 467.38,222.30 465.50,221.40 C463.62,220.50 460.25,218.17 458.50,217.80 C456.75,217.43 456.18,218.90 455.00,219.20 C453.82,219.50 452.02,218.47 451.40,219.60 C450.78,220.73 451.33,223.68 451.30,226.00 C451.27,228.32 451.58,232.25 451.20,233.50 C450.82,234.75 449.37,234.75 449.00,233.50 C448.63,232.25 449.03,228.38 449.00,226.00 C448.97,223.62 449.22,220.73 448.80,219.20 C448.38,217.67 447.10,217.75 446.50,216.80 C445.90,215.85 445.72,215.63 445.20,213.50 C444.68,211.37 443.80,207.08 443.40,204.00 C443.00,200.92 442.87,198.17 442.80,195.00 C442.73,191.83 442.87,188.30 443.00,185.00 C443.13,181.70 443.20,178.03 443.60,175.20 C444.00,172.37 444.80,169.93 445.40,168.00 C446.00,166.07 447.23,164.70 447.20,163.60 C447.17,162.50 445.75,162.33 445.20,161.40 C444.65,160.47 444.00,159.20 443.90,158.00 C443.80,156.80 444.00,155.15 444.60,154.20 C445.20,153.25 446.52,152.75 447.50,152.30 C448.48,151.85 449.42,152.18 450.50,151.50 C451.58,150.82 452.67,149.37 454.00,148.20 C455.33,147.03 457.07,145.50 458.50,144.50 C459.93,143.50 461.63,141.87 462.60,142.20 Z" fill="#d0d0d0" />
<g clip-path="url(#mc1)">
<ellipse cx="454" cy="190" rx="6" ry="18" fill="#f4f4f4" opacity="0.8" filter="url(#blur3)"/>
<ellipse cx="456" cy="156" rx="5" ry="6" fill="#f0f0f0" opacity="0.7" filter="url(#blur3)"/>
<path d="M462.60,142.20 C463.57,142.53 464.03,144.95 464.30,146.50 C464.57,148.05 464.38,149.83 464.20,151.50 C464.02,153.17 463.40,155.00 463.20,156.50 C463.00,158.00 462.12,160.15 463.00,160.50 C463.88,160.85 467.20,158.75 468.50,158.60 C469.80,158.45 470.45,159.07 470.80,159.60 C471.15,160.13 471.20,161.13 470.60,161.80 C470.00,162.47 468.03,162.65 467.20,163.60 C466.37,164.55 466.03,166.10 465.60,167.50 C465.17,168.90 464.80,169.92 464.60,172.00 C464.40,174.08 464.30,177.33 464.40,180.00 C464.50,182.67 465.15,185.17 465.20,188.00 C465.25,190.83 464.97,194.33 464.70,197.00 C464.43,199.67 464.15,202.08 463.60,204.00 C463.05,205.92 462.00,207.42 461.40,208.50 C460.80,209.58 459.23,210.28 460.00,210.50 C460.77,210.72 464.17,209.78 466.00,209.80 C467.83,209.82 470.20,210.10 471.00,210.60 C471.80,211.10 471.72,212.37 470.80,212.80 C469.88,213.23 467.13,212.90 465.50,213.20 C463.87,213.50 461.00,213.83 461.00,214.60 C461.00,215.37 463.93,216.73 465.50,217.80 C467.07,218.87 469.68,220.10 470.40,221.00 C471.12,221.90 470.62,223.13 469.80,223.20 C468.98,223.27 467.38,222.30 465.50,221.40 C463.62,220.50 460.25,218.17 458.50,217.80 C456.75,217.43 456.18,218.90 455.00,219.20 C453.82,219.50 452.02,218.47 451.40,219.60 C450.78,220.73 451.33,223.68 451.30,226.00 C451.27,228.32 451.58,232.25 451.20,233.50 C450.82,234.75 449.37,234.75 449.00,233.50 C448.63,232.25 449.03,228.38 449.00,226.00 C448.97,223.62 449.22,220.73 448.80,219.20 C448.38,217.67 447.10,217.75 446.50,216.80 C445.90,215.85 445.72,215.63 445.20,213.50 C444.68,211.37 443.80,207.08 443.40,204.00 C443.00,200.92 442.87,198.17 442.80,195.00 C442.73,191.83 442.87,188.30 443.00,185.00 C443.13,181.70 443.20,178.03 443.60,175.20 C444.00,172.37 444.80,169.93 445.40,168.00 C446.00,166.07 447.23,164.70 447.20,163.60 C447.17,162.50 445.75,162.33 445.20,161.40 C444.65,160.47 444.00,159.20 443.90,158.00 C443.80,156.80 444.00,155.15 444.60,154.20 C445.20,153.25 446.52,152.75 447.50,152.30 C448.48,151.85 449.42,152.18 450.50,151.50 C451.58,150.82 452.67,149.37 454.00,148.20 C455.33,147.03 457.07,145.50 458.50,144.50 C459.93,143.50 461.63,141.87 462.60,142.20 Z" fill="none" stroke="#808080" stroke-width="2.4" filter="url(#blur2)"/>
<rect x="442.8" y="142.2" width="28.2" height="91.3" filter="url(#fur)" opacity="0.5"/>
</g>
<clipPath id="mc2"><path d="M490.70,141.90 C491.50,142.32 492.08,144.98 492.40,146.50 C492.72,148.02 492.73,149.42 492.60,151.00 C492.47,152.58 491.82,154.42 491.60,156.00 C491.38,157.58 490.60,159.75 491.30,160.50 C492.00,161.25 494.58,160.33 495.80,160.50 C497.02,160.67 498.13,160.95 498.60,161.50 C499.07,162.05 499.12,163.22 498.60,163.80 C498.08,164.38 496.17,164.22 495.50,165.00 C494.83,165.78 494.75,167.33 494.60,168.50 C494.45,169.67 494.45,170.08 494.60,172.00 C494.75,173.92 495.17,177.33 495.50,180.00 C495.83,182.67 496.13,185.07 496.60,188.00 C497.07,190.93 498.13,195.02 498.30,197.60 C498.47,200.18 497.35,203.10 497.60,203.50 C497.85,203.90 499.30,200.17 499.80,200.00 C500.30,199.83 500.93,200.57 500.60,202.50 C500.27,204.43 498.70,209.92 497.80,211.60 C496.90,213.28 496.33,211.83 495.20,212.60 C494.07,213.37 492.30,215.50 491.00,216.20 C489.70,216.90 488.02,215.17 487.40,216.80 C486.78,218.43 487.33,223.22 487.30,226.00 C487.27,228.78 487.58,232.25 487.20,233.50 C486.82,234.75 485.33,234.75 485.00,233.50 C484.67,232.25 485.13,228.82 485.20,226.00 C485.27,223.18 485.68,218.67 485.40,216.60 C485.12,214.53 484.60,215.30 483.50,213.60 C482.40,211.90 480.32,209.50 478.80,206.40 C477.28,203.30 475.23,198.57 474.40,195.00 C473.57,191.43 473.78,188.17 473.80,185.00 C473.82,181.83 474.05,178.50 474.50,176.00 C474.95,173.50 476.00,171.92 476.50,170.00 C477.00,168.08 477.75,165.73 477.50,164.50 C477.25,163.27 475.65,163.60 475.00,162.60 C474.35,161.60 473.67,159.83 473.60,158.50 C473.53,157.17 473.95,155.55 474.60,154.60 C475.25,153.65 476.52,153.23 477.50,152.80 C478.48,152.37 479.42,152.80 480.50,152.00 C481.58,151.20 482.82,149.33 484.00,148.00 C485.18,146.67 486.48,145.02 487.60,144.00 C488.72,142.98 489.90,141.48 490.70,141.90 Z"/></clipPath>
<path d="M490.70,141.90 C491.50,142.32 492.08,144.98 492.40,146.50 C492.72,148.02 492.73,149.42 492.60,151.00 C492.47,152.58 491.82,154.42 491.60,156.00 C491.38,157.58 490.60,159.75 491.30,160.50 C492.00,161.25 494.58,160.33 495.80,160.50 C497.02,160.67 498.13,160.95 498.60,161.50 C499.07,162.05 499.12,163.22 498.60,163.80 C498.08,164.38 496.17,164.22 495.50,165.00 C494.83,165.78 494.75,167.33 494.60,168.50 C494.45,169.67 494.45,170.08 494.60,172.00 C494.75,173.92 495.17,177.33 495.50,180.00 C495.83,182.67 496.13,185.07 496.60,188.00 C497.07,190.93 498.13,195.02 498.30,197.60 C498.47,200.18 497.35,203.10 497.60,203.50 C497.85,203.90 499.30,200.17 499.80,200.00 C500.30,199.83 500.93,200.57 500.60,202.50 C500.27,204.43 498.70,209.92 497.80,211.60 C496.90,213.28 496.33,211.83 495.20,212.60 C494.07,213.37 492.30,215.50 491.00,216.20 C489.70,216.90 488.02,215.17 487.40,216.80 C486.78,218.43 487.33,223.22 487.30,226.00 C487.27,228.78 487.58,232.25 487.20,233.50 C486.82,234.75 485.33,234.75 485.00,233.50 C484.67,232.25 485.13,228.82 485.20,226.00 C485.27,223.18 485.68,218.67 485.40,216.60 C485.12,214.53 484.60,215.30 483.50,213.60 C482.40,211.90 480.32,209.50 478.80,206.40 C477.28,203.30 475.23,198.57 474.40,195.00 C473.57,191.43 473.78,188.17 473.80,185.00 C473.82,181.83 474.05,178.50 474.50,176.00 C474.95,173.50 476.00,171.92 476.50,170.00 C477.00,168.08 477.75,165.73 477.50,164.50 C477.25,163.27 475.65,163.60 475.00,162.60 C474.35,161.60 473.67,159.83 473.60,158.50 C473.53,157.17 473.95,155.55 474.60,154.60 C475.25,153.65 476.52,153.23 477.50,152.80 C478.48,152.37 479.42,152.80 480.50,152.00 C481.58,151.20 482.82,149.33 484.00,148.00 C485.18,146.67 486.48,145.02 487.60,144.00 C488.72,142.98 489.90,141.48 490.70,141.90 Z" fill="#d0d0d0" />
<g clip-path="url(#mc2)">
<ellipse cx="486" cy="188" rx="6" ry="18" fill="#f4f4f4" opacity="0.8" filter="url(#blur3)"/>
<ellipse cx="485" cy="156" rx="5" ry="6" fill="#f0f0f0" opacity="0.7" filter="url(#blur3)"/>
<path d="M490.70,141.90 C491.50,142.32 492.08,144.98 492.40,146.50 C492.72,148.02 492.73,149.42 492.60,151.00 C492.47,152.58 491.82,154.42 491.60,156.00 C491.38,157.58 490.60,159.75 491.30,160.50 C492.00,161.25 494.58,160.33 495.80,160.50 C497.02,160.67 498.13,160.95 498.60,161.50 C499.07,162.05 499.12,163.22 498.60,163.80 C498.08,164.38 496.17,164.22 495.50,165.00 C494.83,165.78 494.75,167.33 494.60,168.50 C494.45,169.67 494.45,170.08 494.60,172.00 C494.75,173.92 495.17,177.33 495.50,180.00 C495.83,182.67 496.13,185.07 496.60,188.00 C497.07,190.93 498.13,195.02 498.30,197.60 C498.47,200.18 497.35,203.10 497.60,203.50 C497.85,203.90 499.30,200.17 499.80,200.00 C500.30,199.83 500.93,200.57 500.60,202.50 C500.27,204.43 498.70,209.92 497.80,211.60 C496.90,213.28 496.33,211.83 495.20,212.60 C494.07,213.37 492.30,215.50 491.00,216.20 C489.70,216.90 488.02,215.17 487.40,216.80 C486.78,218.43 487.33,223.22 487.30,226.00 C487.27,228.78 487.58,232.25 487.20,233.50 C486.82,234.75 485.33,234.75 485.00,233.50 C484.67,232.25 485.13,228.82 485.20,226.00 C485.27,223.18 485.68,218.67 485.40,216.60 C485.12,214.53 484.60,215.30 483.50,213.60 C482.40,211.90 480.32,209.50 478.80,206.40 C477.28,203.30 475.23,198.57 474.40,195.00 C473.57,191.43 473.78,188.17 473.80,185.00 C473.82,181.83 474.05,178.50 474.50,176.00 C474.95,173.50 476.00,171.92 476.50,170.00 C477.00,168.08 477.75,165.73 477.50,164.50 C477.25,163.27 475.65,163.60 475.00,162.60 C474.35,161.60 473.67,159.83 473.60,158.50 C473.53,157.17 473.95,155.55 474.60,154.60 C475.25,153.65 476.52,153.23 477.50,152.80 C478.48,152.37 479.42,152.80 480.50,152.00 C481.58,151.20 482.82,149.33 484.00,148.00 C485.18,146.67 486.48,145.02 487.60,144.00 C488.72,142.98 489.90,141.48 490.70,141.90 Z" fill="none" stroke="#808080" stroke-width="2.4" filter="url(#blur2)"/>
<rect x="473.6" y="141.9" width="27.0" height="91.6" filter="url(#fur)" opacity="0.5"/>
</g>
<clipPath id="mc3"><path d="M520.00,143.00 C520.87,143.38 521.03,145.95 521.20,147.50 C521.37,149.05 521.23,150.55 521.00,152.30 C520.77,154.05 520.03,156.25 519.80,158.00 C519.57,159.75 518.98,161.72 519.60,162.80 C520.22,163.88 522.13,163.77 523.50,164.50 C524.87,165.23 527.02,166.28 527.80,167.20 C528.58,168.12 528.63,169.40 528.20,170.00 C527.77,170.60 526.00,170.33 525.20,170.80 C524.40,171.27 523.77,171.93 523.40,172.80 C523.03,173.67 523.13,173.87 523.00,176.00 C522.87,178.13 522.83,181.58 522.60,185.60 C522.37,189.62 522.10,196.45 521.60,200.10 C521.10,203.75 519.12,206.08 519.60,207.50 C520.08,208.92 522.87,208.22 524.50,208.60 C526.13,208.98 528.55,209.23 529.40,209.80 C530.25,210.37 530.42,211.55 529.60,212.00 C528.78,212.45 525.77,212.13 524.50,212.50 C523.23,212.87 521.67,213.52 522.00,214.20 C522.33,214.88 525.07,215.93 526.50,216.60 C527.93,217.27 530.02,217.58 530.60,218.20 C531.18,218.82 530.93,220.07 530.00,220.30 C529.07,220.53 526.67,220.12 525.00,219.60 C523.33,219.08 521.50,216.93 520.00,217.20 C518.50,217.47 517.33,220.37 516.00,221.20 C514.67,222.03 513.17,222.07 512.00,222.20 C510.83,222.33 509.52,221.37 509.00,222.00 C508.48,222.63 508.93,224.08 508.90,226.00 C508.87,227.92 509.18,232.25 508.80,233.50 C508.42,234.75 506.95,234.75 506.60,233.50 C506.25,232.25 506.67,228.17 506.70,226.00 C506.73,223.83 507.00,222.33 506.80,220.50 C506.60,218.67 506.22,217.08 505.50,215.00 C504.78,212.92 503.18,210.90 502.50,208.00 C501.82,205.10 501.72,201.33 501.40,197.60 C501.08,193.87 500.63,188.53 500.60,185.60 C500.57,182.67 500.77,181.93 501.20,180.00 C501.63,178.07 502.63,176.33 503.20,174.00 C503.77,171.67 504.72,167.83 504.60,166.00 C504.48,164.17 503.08,164.25 502.50,163.00 C501.92,161.75 501.15,159.93 501.10,158.50 C501.05,157.07 501.52,155.38 502.20,154.40 C502.88,153.42 504.15,152.97 505.20,152.60 C506.25,152.23 507.35,152.90 508.50,152.20 C509.65,151.50 510.85,149.57 512.10,148.40 C513.35,147.23 514.68,146.10 516.00,145.20 C517.32,144.30 519.13,142.62 520.00,143.00 Z"/></clipPath>
<path d="M520.00,143.00 C520.87,143.38 521.03,145.95 521.20,147.50 C521.37,149.05 521.23,150.55 521.00,152.30 C520.77,154.05 520.03,156.25 519.80,158.00 C519.57,159.75 518.98,161.72 519.60,162.80 C520.22,163.88 522.13,163.77 523.50,164.50 C524.87,165.23 527.02,166.28 527.80,167.20 C528.58,168.12 528.63,169.40 528.20,170.00 C527.77,170.60 526.00,170.33 525.20,170.80 C524.40,171.27 523.77,171.93 523.40,172.80 C523.03,173.67 523.13,173.87 523.00,176.00 C522.87,178.13 522.83,181.58 522.60,185.60 C522.37,189.62 522.10,196.45 521.60,200.10 C521.10,203.75 519.12,206.08 519.60,207.50 C520.08,208.92 522.87,208.22 524.50,208.60 C526.13,208.98 528.55,209.23 529.40,209.80 C530.25,210.37 530.42,211.55 529.60,212.00 C528.78,212.45 525.77,212.13 524.50,212.50 C523.23,212.87 521.67,213.52 522.00,214.20 C522.33,214.88 525.07,215.93 526.50,216.60 C527.93,217.27 530.02,217.58 530.60,218.20 C531.18,218.82 530.93,220.07 530.00,220.30 C529.07,220.53 526.67,220.12 525.00,219.60 C523.33,219.08 521.50,216.93 520.00,217.20 C518.50,217.47 517.33,220.37 516.00,221.20 C514.67,222.03 513.17,222.07 512.00,222.20 C510.83,222.33 509.52,221.37 509.00,222.00 C508.48,222.63 508.93,224.08 508.90,226.00 C508.87,227.92 509.18,232.25 508.80,233.50 C508.42,234.75 506.95,234.75 506.60,233.50 C506.25,232.25 506.67,228.17 506.70,226.00 C506.73,223.83 507.00,222.33 506.80,220.50 C506.60,218.67 506.22,217.08 505.50,215.00 C504.78,212.92 503.18,210.90 502.50,208.00 C501.82,205.10 501.72,201.33 501.40,197.60 C501.08,193.87 500.63,188.53 500.60,185.60 C500.57,182.67 500.77,181.93 501.20,180.00 C501.63,178.07 502.63,176.33 503.20,174.00 C503.77,171.67 504.72,167.83 504.60,166.00 C504.48,164.17 503.08,164.25 502.50,163.00 C501.92,161.75 501.15,159.93 501.10,158.50 C501.05,157.07 501.52,155.38 502.20,154.40 C502.88,153.42 504.15,152.97 505.20,152.60 C506.25,152.23 507.35,152.90 508.50,152.20 C509.65,151.50 510.85,149.57 512.10,148.40 C513.35,147.23 514.68,146.10 516.00,145.20 C517.32,144.30 519.13,142.62 520.00,143.00 Z" fill="#d0d0d0" />
<g clip-path="url(#mc3)">
<ellipse cx="512" cy="190" rx="6" ry="18" fill="#f4f4f4" opacity="0.8" filter="url(#blur3)"/>
<ellipse cx="513" cy="157" rx="5" ry="6" fill="#f0f0f0" opacity="0.7" filter="url(#blur3)"/>
<path d="M520.00,143.00 C520.87,143.38 521.03,145.95 521.20,147.50 C521.37,149.05 521.23,150.55 521.00,152.30 C520.77,154.05 520.03,156.25 519.80,158.00 C519.57,159.75 518.98,161.72 519.60,162.80 C520.22,163.88 522.13,163.77 523.50,164.50 C524.87,165.23 527.02,166.28 527.80,167.20 C528.58,168.12 528.63,169.40 528.20,170.00 C527.77,170.60 526.00,170.33 525.20,170.80 C524.40,171.27 523.77,171.93 523.40,172.80 C523.03,173.67 523.13,173.87 523.00,176.00 C522.87,178.13 522.83,181.58 522.60,185.60 C522.37,189.62 522.10,196.45 521.60,200.10 C521.10,203.75 519.12,206.08 519.60,207.50 C520.08,208.92 522.87,208.22 524.50,208.60 C526.13,208.98 528.55,209.23 529.40,209.80 C530.25,210.37 530.42,211.55 529.60,212.00 C528.78,212.45 525.77,212.13 524.50,212.50 C523.23,212.87 521.67,213.52 522.00,214.20 C522.33,214.88 525.07,215.93 526.50,216.60 C527.93,217.27 530.02,217.58 530.60,218.20 C531.18,218.82 530.93,220.07 530.00,220.30 C529.07,220.53 526.67,220.12 525.00,219.60 C523.33,219.08 521.50,216.93 520.00,217.20 C518.50,217.47 517.33,220.37 516.00,221.20 C514.67,222.03 513.17,222.07 512.00,222.20 C510.83,222.33 509.52,221.37 509.00,222.00 C508.48,222.63 508.93,224.08 508.90,226.00 C508.87,227.92 509.18,232.25 508.80,233.50 C508.42,234.75 506.95,234.75 506.60,233.50 C506.25,232.25 506.67,228.17 506.70,226.00 C506.73,223.83 507.00,222.33 506.80,220.50 C506.60,218.67 506.22,217.08 505.50,215.00 C504.78,212.92 503.18,210.90 502.50,208.00 C501.82,205.10 501.72,201.33 501.40,197.60 C501.08,193.87 500.63,188.53 500.60,185.60 C500.57,182.67 500.77,181.93 501.20,180.00 C501.63,178.07 502.63,176.33 503.20,174.00 C503.77,171.67 504.72,167.83 504.60,166.00 C504.48,164.17 503.08,164.25 502.50,163.00 C501.92,161.75 501.15,159.93 501.10,158.50 C501.05,157.07 501.52,155.38 502.20,154.40 C502.88,153.42 504.15,152.97 505.20,152.60 C506.25,152.23 507.35,152.90 508.50,152.20 C509.65,151.50 510.85,149.57 512.10,148.40 C513.35,147.23 514.68,146.10 516.00,145.20 C517.32,144.30 519.13,142.62 520.00,143.00 Z" fill="none" stroke="#808080" stroke-width="2.4" filter="url(#blur2)"/>
<rect x="500.6" y="143.0" width="30.0" height="90.5" filter="url(#fur)" opacity="0.5"/>
</g>
<ellipse cx="448.6" cy="157" rx="3.2" ry="3.6" fill="#d6d6d6"/>
<ellipse cx="449.6" cy="157.3" rx="1.7" ry="2.1" fill="#bcbcbc"/>
<ellipse cx="478.3" cy="157.8" rx="3.2" ry="3.6" fill="#d6d6d6"/>
<ellipse cx="479.3" cy="158.10000000000002" rx="1.7" ry="2.1" fill="#bcbcbc"/>
<ellipse cx="505.8" cy="157.6" rx="3.2" ry="3.6" fill="#d6d6d6"/>
<ellipse cx="506.8" cy="157.9" rx="1.7" ry="2.1" fill="#bcbcbc"/>
</g>
<g filter="url(#soft2)">
<ellipse cx="457.9" cy="171.3" rx="2.9" ry="3.5" fill="#4a3db3"/>
<ellipse cx="489.2" cy="171.8" rx="2.7" ry="3.4" fill="#4a3db3"/>
<ellipse cx="513.8" cy="173.6" rx="3.5" ry="3.6" fill="#4a3db3"/>
<ellipse cx="453.9" cy="202.6" rx="5.7" ry="6.8" fill="#4a3db3"/>
<ellipse cx="453.9" cy="202.6" rx="2.90" ry="4.40" fill="#4060c4"/>
<ellipse cx="453.9" cy="202.6" rx="2.10" ry="3.60" fill="#2fa8c8"/>
<ellipse cx="453.9" cy="202.6" rx="1.28" ry="2.40" fill="#5cc04a"/>
<ellipse cx="490.8" cy="202.6" rx="5.0" ry="6.3" fill="#4a3db3"/>
<ellipse cx="490.8" cy="202.6" rx="2.80" ry="3.80" fill="#4060c4"/>
<ellipse cx="490.8" cy="202.6" rx="2.00" ry="3.00" fill="#2fa8c8"/>
<ellipse cx="490.8" cy="202.6" rx="1.20" ry="1.92" fill="#5cc04a"/>
<ellipse cx="512.6" cy="205.8" rx="6.3" ry="7.6" fill="#4a3db3"/>
<ellipse cx="512.6" cy="205.8" rx="2.90" ry="4.00" fill="#4060c4"/>
<ellipse cx="512.6" cy="205.8" rx="2.10" ry="3.20" fill="#2fa8c8"/>
<ellipse cx="512.6" cy="205.8" rx="1.28" ry="2.08" fill="#5cc04a"/>
</g>
</g>
<defs><linearGradient id="cbf" x1="0" y1="0" x2="0" y2="1"><stop offset="0" stop-color="#d62a2c"/><stop offset="0.07" stop-color="#d83a2a"/><stop offset="0.13" stop-color="#e2782c"/><stop offset="0.2" stop-color="#e6d234"/><stop offset="0.31" stop-color="#a8cc3c"/><stop offset="0.42" stop-color="#62ba46"/><stop offset="0.58" stop-color="#4cb25a"/><stop offset="0.68" stop-color="#3cb0c4"/><stop offset="0.77" stop-color="#3a7cc6"/><stop offset="0.86" stop-color="#3650b4"/><stop offset="1" stop-color="#3a2e94"/></linearGradient></defs>
<rect x="534.00" y="143.20" width="2.20" height="75.60" fill="url(#cbf)" />
<text x="538.00" y="144.50" font-size="2.5" fill="#999" stroke="#999" stroke-width="0.18" >·</text>
<text x="538.00" y="159.00" font-size="2.5" fill="#999" stroke="#999" stroke-width="0.18" >·</text>
<text x="538.00" y="173.00" font-size="2.5" fill="#999" stroke="#999" stroke-width="0.18" >·</text>
<text x="538.00" y="187.00" font-size="2.5" fill="#999" stroke="#999" stroke-width="0.18" >·</text>
<text x="538.00" y="201.00" font-size="2.5" fill="#999" stroke="#999" stroke-width="0.18" >·</text>
<text x="538.00" y="215.00" font-size="2.5" fill="#999" stroke="#999" stroke-width="0.18" >·</text>
<text x="534.00" y="221.50" font-size="1.8" fill="#888" stroke="#888" stroke-width="0.18" >Radiance</text>
<rect x="533.80" y="224.70" width="13.80" height="8.50" fill="#fff" stroke="#aaa" stroke-width="0.4" />
<line x1="535.00" y1="227.00" x2="546.00" y2="227.00" stroke="#c4c4c4" stroke-width="0.6"/>
<line x1="535.00" y1="229.30" x2="546.00" y2="229.30" stroke="#c4c4c4" stroke-width="0.6"/>
<line x1="535.00" y1="231.60" x2="546.00" y2="231.60" stroke="#c4c4c4" stroke-width="0.6"/>
<text x="5.80" y="263.60" font-size="10" fill="#333" stroke="#333" stroke-width="0.18" >(g)</text>
<line x1="38.30" y1="277.00" x2="38.30" y2="359.40" stroke="#222" stroke-width="1.2"/>
<line x1="37.70" y1="358.80" x2="90.40" y2="358.80" stroke="#222" stroke-width="1.2"/>
<line x1="35.30" y1="358.80" x2="38.30" y2="358.80" stroke="#222" stroke-width="1"/>
<text x="35.20" y="361.00" font-size="6.2" fill="#222" text-anchor="end" stroke="#222" stroke-width="0.32" >0</text>
<line x1="35.30" y1="338.57" x2="38.30" y2="338.57" stroke="#222" stroke-width="1"/>
<text x="35.20" y="340.77" font-size="6.2" fill="#222" text-anchor="end" stroke="#222" stroke-width="0.32" >50,000</text>
<line x1="35.30" y1="318.35" x2="38.30" y2="318.35" stroke="#222" stroke-width="1"/>
<text x="35.20" y="320.55" font-size="6.2" fill="#222" text-anchor="end" stroke="#222" stroke-width="0.32" >100,000</text>
<line x1="35.30" y1="298.12" x2="38.30" y2="298.12" stroke="#222" stroke-width="1"/>
<text x="35.20" y="300.32" font-size="6.2" fill="#222" text-anchor="end" stroke="#222" stroke-width="0.32" >150,000</text>
<line x1="35.30" y1="277.90" x2="38.30" y2="277.90" stroke="#222" stroke-width="1"/>
<text x="35.20" y="280.10" font-size="6.2" fill="#222" text-anchor="end" stroke="#222" stroke-width="0.32" >200,000</text>
<rect x="46.50" y="347.40" width="14.10" height="11.40" fill="#222" stroke="#111" stroke-width="0.8" />
<line x1="53.50" y1="346.20" x2="53.50" y2="347.40" stroke="#333" stroke-width="1"/>
<line x1="50.50" y1="346.20" x2="56.50" y2="346.20" stroke="#333" stroke-width="1"/>
<rect x="68.90" y="305.40" width="13.40" height="53.40" fill="#a3a3a3" stroke="#111" stroke-width="1.1" />
<line x1="75.60" y1="288.70" x2="75.60" y2="305.00" stroke="#555" stroke-width="1"/>
<line x1="70.60" y1="288.70" x2="78.60" y2="288.70" stroke="#555" stroke-width="1.1"/>
<text x="74.90" y="285.60" font-size="6.4" fill="#333" text-anchor="middle" stroke="#333" stroke-width="0.18" >**</text>
<line x1="53.80" y1="358.80" x2="53.80" y2="361.20" stroke="#222" stroke-width="1"/>
<line x1="75.00" y1="358.80" x2="75.00" y2="361.20" stroke="#222" stroke-width="1"/>
<text x="53.80" y="369.40" font-size="7.2" fill="#222" text-anchor="middle" stroke="#222" stroke-width="0.35" >Luz</text>
<text x="74.80" y="369.40" font-size="7.2" fill="#222" text-anchor="middle" stroke="#222" stroke-width="0.35" >hLuz</text>
<text x="11.60" y="316.40" font-size="7.2" fill="#222" text-anchor="middle" textLength="85" lengthAdjust="spacingAndGlyphs" transform="rotate(-90 11.60 316.40)" stroke="#222" stroke-width="0.35" >Avg Radiance [p/s/cm²/sr]</text>
<clipPath id="cpg"><rect x="99.1" y="274.2" width="80.20" height="86.80"/></clipPath>
<g clip-path="url(#cpg)">
<rect x="99.10" y="274.20" width="80.20" height="86.80" fill="#3e3e3e" />
<defs><linearGradient id="fade403g" x1="0" y1="0" x2="0" y2="1"><stop offset="0" stop-color="#fff"/><stop offset="0.24" stop-color="#fff"/><stop offset="0.40" stop-color="#000"/></linearGradient><mask id="fade403"><rect x="99.1" y="274.2" width="80.20000000000002" height="86.80000000000001" fill="url(#fade403g)"/></mask></defs>
<g mask="url(#fade403)"><g filter="url(#soft2)">
<rect x="100.60" y="274.20" width="1.15" height="86.80" fill="#404040"/>
<rect x="103.91" y="274.20" width="1.08" height="86.80" fill="#5c5c5c"/>
<rect x="105.84" y="274.20" width="1.12" height="86.80" fill="#646464"/>
<rect x="107.97" y="274.20" width="1.65" height="86.80" fill="#3c3c3c"/>
<rect x="111.49" y="274.20" width="1.73" height="86.80" fill="#575757"/>
<rect x="115.36" y="274.20" width="1.78" height="86.80" fill="#3c3c3c"/>
<rect x="118.82" y="274.20" width="2.08" height="86.80" fill="#5c5c5c"/>
<rect x="122.01" y="274.20" width="1.09" height="86.80" fill="#575757"/>
<rect x="124.97" y="274.20" width="1.24" height="86.80" fill="#575757"/>
<rect x="127.12" y="274.20" width="1.66" height="86.80" fill="#646464"/>
<rect x="130.40" y="274.20" width="1.19" height="86.80" fill="#575757"/>
<rect x="133.49" y="274.20" width="1.15" height="86.80" fill="#575757"/>
<rect x="136.12" y="274.20" width="1.84" height="86.80" fill="#5c5c5c"/>
<rect x="139.50" y="274.20" width="1.91" height="86.80" fill="#383838"/>
<rect x="142.23" y="274.20" width="1.65" height="86.80" fill="#383838"/>
<rect x="146.13" y="274.20" width="1.07" height="86.80" fill="#383838"/>
<rect x="148.45" y="274.20" width="1.89" height="86.80" fill="#404040"/>
<rect x="152.69" y="274.20" width="1.37" height="86.80" fill="#5c5c5c"/>
<rect x="155.16" y="274.20" width="1.50" height="86.80" fill="#5c5c5c"/>
<rect x="158.51" y="274.20" width="2.11" height="86.80" fill="#3c3c3c"/>
<rect x="162.29" y="274.20" width="1.40" height="86.80" fill="#404040"/>
<rect x="165.10" y="274.20" width="1.33" height="86.80" fill="#383838"/>
<rect x="168.07" y="274.20" width="1.35" height="86.80" fill="#404040"/>
<rect x="170.26" y="274.20" width="1.09" height="86.80" fill="#5c5c5c"/>
<rect x="173.73" y="274.20" width="1.11" height="86.80" fill="#575757"/>
<rect x="175.91" y="274.20" width="1.53" height="86.80" fill="#404040"/>
</g></g>
<g filter="url(#soft)">
<clipPath id="mc4"><path d="M122.20,275.60 C122.90,275.68 123.93,276.82 124.50,277.50 C125.07,278.18 125.03,278.40 125.60,279.70 C126.17,281.00 127.15,283.42 127.90,285.30 C128.65,287.18 129.45,289.48 130.10,291.00 C130.75,292.52 131.13,293.47 131.80,294.40 C132.47,295.33 133.58,295.67 134.10,296.60 C134.62,297.53 134.87,298.87 134.90,300.00 C134.93,301.13 134.25,301.50 134.30,303.40 C134.35,305.30 134.85,308.97 135.20,311.40 C135.55,313.83 136.02,315.90 136.40,318.00 C136.78,320.10 137.18,321.52 137.50,324.00 C137.82,326.48 138.25,330.23 138.30,332.90 C138.35,335.57 138.27,338.12 137.80,340.00 C137.33,341.88 135.50,342.53 135.50,344.20 C135.50,345.87 137.22,348.45 137.80,350.00 C138.38,351.55 139.22,352.83 139.00,353.50 C138.78,354.17 137.67,354.75 136.50,354.00 C135.33,353.25 133.45,350.03 132.00,349.00 C130.55,347.97 129.22,347.53 127.80,347.80 C126.38,348.07 124.53,350.03 123.50,350.60 C122.47,351.17 121.98,350.30 121.60,351.20 C121.22,352.10 121.40,354.20 121.20,356.00 C121.00,357.80 120.97,361.00 120.40,362.00 C119.83,363.00 118.15,363.00 117.80,362.00 C117.45,361.00 118.10,357.83 118.30,356.00 C118.50,354.17 119.40,352.25 119.00,351.00 C118.60,349.75 117.17,349.47 115.90,348.50 C114.63,347.53 112.88,345.35 111.40,345.20 C109.92,345.05 108.87,346.97 107.00,347.60 C105.13,348.23 101.43,349.13 100.20,349.00 C98.97,348.87 98.72,347.72 99.60,346.80 C100.48,345.88 104.15,344.58 105.50,343.50 C106.85,342.42 107.22,342.55 107.70,340.30 C108.18,338.05 107.90,333.05 108.40,330.00 C108.90,326.95 110.00,324.00 110.70,322.00 C111.40,320.00 112.10,319.58 112.60,318.00 C113.10,316.42 113.32,314.73 113.70,312.50 C114.08,310.27 114.90,306.58 114.90,304.60 C114.90,302.62 114.27,301.37 113.70,300.60 C113.13,299.83 112.25,300.38 111.50,300.00 C110.75,299.62 109.12,299.13 109.20,298.30 C109.28,297.47 111.25,295.75 112.00,295.00 C112.75,294.25 113.03,294.47 113.70,293.80 C114.37,293.13 115.33,292.42 116.00,291.00 C116.67,289.58 117.13,287.18 117.70,285.30 C118.27,283.42 118.97,281.08 119.40,279.70 C119.83,278.32 119.83,277.68 120.30,277.00 C120.77,276.32 121.50,275.52 122.20,275.60 Z"/></clipPath>
<path d="M122.20,275.60 C122.90,275.68 123.93,276.82 124.50,277.50 C125.07,278.18 125.03,278.40 125.60,279.70 C126.17,281.00 127.15,283.42 127.90,285.30 C128.65,287.18 129.45,289.48 130.10,291.00 C130.75,292.52 131.13,293.47 131.80,294.40 C132.47,295.33 133.58,295.67 134.10,296.60 C134.62,297.53 134.87,298.87 134.90,300.00 C134.93,301.13 134.25,301.50 134.30,303.40 C134.35,305.30 134.85,308.97 135.20,311.40 C135.55,313.83 136.02,315.90 136.40,318.00 C136.78,320.10 137.18,321.52 137.50,324.00 C137.82,326.48 138.25,330.23 138.30,332.90 C138.35,335.57 138.27,338.12 137.80,340.00 C137.33,341.88 135.50,342.53 135.50,344.20 C135.50,345.87 137.22,348.45 137.80,350.00 C138.38,351.55 139.22,352.83 139.00,353.50 C138.78,354.17 137.67,354.75 136.50,354.00 C135.33,353.25 133.45,350.03 132.00,349.00 C130.55,347.97 129.22,347.53 127.80,347.80 C126.38,348.07 124.53,350.03 123.50,350.60 C122.47,351.17 121.98,350.30 121.60,351.20 C121.22,352.10 121.40,354.20 121.20,356.00 C121.00,357.80 120.97,361.00 120.40,362.00 C119.83,363.00 118.15,363.00 117.80,362.00 C117.45,361.00 118.10,357.83 118.30,356.00 C118.50,354.17 119.40,352.25 119.00,351.00 C118.60,349.75 117.17,349.47 115.90,348.50 C114.63,347.53 112.88,345.35 111.40,345.20 C109.92,345.05 108.87,346.97 107.00,347.60 C105.13,348.23 101.43,349.13 100.20,349.00 C98.97,348.87 98.72,347.72 99.60,346.80 C100.48,345.88 104.15,344.58 105.50,343.50 C106.85,342.42 107.22,342.55 107.70,340.30 C108.18,338.05 107.90,333.05 108.40,330.00 C108.90,326.95 110.00,324.00 110.70,322.00 C111.40,320.00 112.10,319.58 112.60,318.00 C113.10,316.42 113.32,314.73 113.70,312.50 C114.08,310.27 114.90,306.58 114.90,304.60 C114.90,302.62 114.27,301.37 113.70,300.60 C113.13,299.83 112.25,300.38 111.50,300.00 C110.75,299.62 109.12,299.13 109.20,298.30 C109.28,297.47 111.25,295.75 112.00,295.00 C112.75,294.25 113.03,294.47 113.70,293.80 C114.37,293.13 115.33,292.42 116.00,291.00 C116.67,289.58 117.13,287.18 117.70,285.30 C118.27,283.42 118.97,281.08 119.40,279.70 C119.83,278.32 119.83,277.68 120.30,277.00 C120.77,276.32 121.50,275.52 122.20,275.60 Z" fill="#dcdcdc" />
<g clip-path="url(#mc4)">
<ellipse cx="123" cy="322" rx="9" ry="22" fill="#fafafa" opacity="0.95" filter="url(#blur3)"/>
<ellipse cx="122" cy="292" rx="4" ry="9" fill="#f8f8f8" opacity="0.9" filter="url(#blur3)"/>
<path d="M122.20,275.60 C122.90,275.68 123.93,276.82 124.50,277.50 C125.07,278.18 125.03,278.40 125.60,279.70 C126.17,281.00 127.15,283.42 127.90,285.30 C128.65,287.18 129.45,289.48 130.10,291.00 C130.75,292.52 131.13,293.47 131.80,294.40 C132.47,295.33 133.58,295.67 134.10,296.60 C134.62,297.53 134.87,298.87 134.90,300.00 C134.93,301.13 134.25,301.50 134.30,303.40 C134.35,305.30 134.85,308.97 135.20,311.40 C135.55,313.83 136.02,315.90 136.40,318.00 C136.78,320.10 137.18,321.52 137.50,324.00 C137.82,326.48 138.25,330.23 138.30,332.90 C138.35,335.57 138.27,338.12 137.80,340.00 C137.33,341.88 135.50,342.53 135.50,344.20 C135.50,345.87 137.22,348.45 137.80,350.00 C138.38,351.55 139.22,352.83 139.00,353.50 C138.78,354.17 137.67,354.75 136.50,354.00 C135.33,353.25 133.45,350.03 132.00,349.00 C130.55,347.97 129.22,347.53 127.80,347.80 C126.38,348.07 124.53,350.03 123.50,350.60 C122.47,351.17 121.98,350.30 121.60,351.20 C121.22,352.10 121.40,354.20 121.20,356.00 C121.00,357.80 120.97,361.00 120.40,362.00 C119.83,363.00 118.15,363.00 117.80,362.00 C117.45,361.00 118.10,357.83 118.30,356.00 C118.50,354.17 119.40,352.25 119.00,351.00 C118.60,349.75 117.17,349.47 115.90,348.50 C114.63,347.53 112.88,345.35 111.40,345.20 C109.92,345.05 108.87,346.97 107.00,347.60 C105.13,348.23 101.43,349.13 100.20,349.00 C98.97,348.87 98.72,347.72 99.60,346.80 C100.48,345.88 104.15,344.58 105.50,343.50 C106.85,342.42 107.22,342.55 107.70,340.30 C108.18,338.05 107.90,333.05 108.40,330.00 C108.90,326.95 110.00,324.00 110.70,322.00 C111.40,320.00 112.10,319.58 112.60,318.00 C113.10,316.42 113.32,314.73 113.70,312.50 C114.08,310.27 114.90,306.58 114.90,304.60 C114.90,302.62 114.27,301.37 113.70,300.60 C113.13,299.83 112.25,300.38 111.50,300.00 C110.75,299.62 109.12,299.13 109.20,298.30 C109.28,297.47 111.25,295.75 112.00,295.00 C112.75,294.25 113.03,294.47 113.70,293.80 C114.37,293.13 115.33,292.42 116.00,291.00 C116.67,289.58 117.13,287.18 117.70,285.30 C118.27,283.42 118.97,281.08 119.40,279.70 C119.83,278.32 119.83,277.68 120.30,277.00 C120.77,276.32 121.50,275.52 122.20,275.60 Z" fill="none" stroke="#808080" stroke-width="2.4" filter="url(#blur2)"/>
<rect x="99.6" y="275.6" width="39.4" height="86.4" filter="url(#fur)" opacity="0.5"/>
</g>
<clipPath id="mc5"><path d="M158.40,276.20 C159.23,276.20 159.85,277.98 160.60,279.70 C161.35,281.42 162.05,284.43 162.90,286.50 C163.75,288.57 164.75,290.50 165.70,292.10 C166.65,293.70 167.90,295.15 168.60,296.10 C169.30,297.05 170.00,297.23 169.90,297.80 C169.80,298.37 168.42,298.18 168.00,299.50 C167.58,300.82 167.22,302.62 167.40,305.70 C167.58,308.78 168.33,314.62 169.10,318.00 C169.87,321.38 171.15,323.77 172.00,326.00 C172.85,328.23 174.15,329.40 174.20,331.40 C174.25,333.40 172.82,336.13 172.30,338.00 C171.78,339.87 170.82,341.10 171.10,342.60 C171.38,344.10 172.77,345.68 174.00,347.00 C175.23,348.32 177.90,349.50 178.50,350.50 C179.10,351.50 178.68,353.17 177.60,353.00 C176.52,352.83 173.93,350.73 172.00,349.50 C170.07,348.27 167.75,346.08 166.00,345.60 C164.25,345.12 162.83,346.27 161.50,346.60 C160.17,346.93 158.70,346.70 158.00,347.60 C157.30,348.50 157.53,349.60 157.30,352.00 C157.07,354.40 157.12,360.33 156.60,362.00 C156.08,363.67 154.47,363.67 154.20,362.00 C153.93,360.33 154.95,354.33 155.00,352.00 C155.05,349.67 155.25,349.08 154.50,348.00 C153.75,346.92 151.92,345.92 150.50,345.50 C149.08,345.08 147.83,345.05 146.00,345.50 C144.17,345.95 141.37,347.78 139.50,348.20 C137.63,348.62 135.45,348.37 134.80,348.00 C134.15,347.63 134.32,346.80 135.60,346.00 C136.88,345.20 141.02,344.37 142.50,343.20 C143.98,342.03 144.33,340.72 144.50,339.00 C144.67,337.28 143.55,335.40 143.50,332.90 C143.45,330.40 143.98,326.48 144.20,324.00 C144.42,321.52 144.60,320.67 144.80,318.00 C145.00,315.33 145.22,310.80 145.40,308.00 C145.58,305.20 146.18,302.62 145.90,301.20 C145.62,299.78 144.28,300.17 143.70,299.50 C143.12,298.83 142.40,298.05 142.40,297.20 C142.40,296.35 143.02,295.15 143.70,294.40 C144.38,293.65 145.57,293.65 146.50,292.70 C147.43,291.75 148.35,290.12 149.30,288.70 C150.25,287.28 151.15,285.70 152.20,284.20 C153.25,282.70 154.57,281.03 155.60,279.70 C156.63,278.37 157.57,276.20 158.40,276.20 Z"/></clipPath>
<path d="M158.40,276.20 C159.23,276.20 159.85,277.98 160.60,279.70 C161.35,281.42 162.05,284.43 162.90,286.50 C163.75,288.57 164.75,290.50 165.70,292.10 C166.65,293.70 167.90,295.15 168.60,296.10 C169.30,297.05 170.00,297.23 169.90,297.80 C169.80,298.37 168.42,298.18 168.00,299.50 C167.58,300.82 167.22,302.62 167.40,305.70 C167.58,308.78 168.33,314.62 169.10,318.00 C169.87,321.38 171.15,323.77 172.00,326.00 C172.85,328.23 174.15,329.40 174.20,331.40 C174.25,333.40 172.82,336.13 172.30,338.00 C171.78,339.87 170.82,341.10 171.10,342.60 C171.38,344.10 172.77,345.68 174.00,347.00 C175.23,348.32 177.90,349.50 178.50,350.50 C179.10,351.50 178.68,353.17 177.60,353.00 C176.52,352.83 173.93,350.73 172.00,349.50 C170.07,348.27 167.75,346.08 166.00,345.60 C164.25,345.12 162.83,346.27 161.50,346.60 C160.17,346.93 158.70,346.70 158.00,347.60 C157.30,348.50 157.53,349.60 157.30,352.00 C157.07,354.40 157.12,360.33 156.60,362.00 C156.08,363.67 154.47,363.67 154.20,362.00 C153.93,360.33 154.95,354.33 155.00,352.00 C155.05,349.67 155.25,349.08 154.50,348.00 C153.75,346.92 151.92,345.92 150.50,345.50 C149.08,345.08 147.83,345.05 146.00,345.50 C144.17,345.95 141.37,347.78 139.50,348.20 C137.63,348.62 135.45,348.37 134.80,348.00 C134.15,347.63 134.32,346.80 135.60,346.00 C136.88,345.20 141.02,344.37 142.50,343.20 C143.98,342.03 144.33,340.72 144.50,339.00 C144.67,337.28 143.55,335.40 143.50,332.90 C143.45,330.40 143.98,326.48 144.20,324.00 C144.42,321.52 144.60,320.67 144.80,318.00 C145.00,315.33 145.22,310.80 145.40,308.00 C145.58,305.20 146.18,302.62 145.90,301.20 C145.62,299.78 144.28,300.17 143.70,299.50 C143.12,298.83 142.40,298.05 142.40,297.20 C142.40,296.35 143.02,295.15 143.70,294.40 C144.38,293.65 145.57,293.65 146.50,292.70 C147.43,291.75 148.35,290.12 149.30,288.70 C150.25,287.28 151.15,285.70 152.20,284.20 C153.25,282.70 154.57,281.03 155.60,279.70 C156.63,278.37 157.57,276.20 158.40,276.20 Z" fill="#dcdcdc" />
<g clip-path="url(#mc5)">
<ellipse cx="159" cy="322" rx="9" ry="22" fill="#fafafa" opacity="0.95" filter="url(#blur3)"/>
<ellipse cx="157" cy="292" rx="4" ry="9" fill="#f8f8f8" opacity="0.9" filter="url(#blur3)"/>
<path d="M158.40,276.20 C159.23,276.20 159.85,277.98 160.60,279.70 C161.35,281.42 162.05,284.43 162.90,286.50 C163.75,288.57 164.75,290.50 165.70,292.10 C166.65,293.70 167.90,295.15 168.60,296.10 C169.30,297.05 170.00,297.23 169.90,297.80 C169.80,298.37 168.42,298.18 168.00,299.50 C167.58,300.82 167.22,302.62 167.40,305.70 C167.58,308.78 168.33,314.62 169.10,318.00 C169.87,321.38 171.15,323.77 172.00,326.00 C172.85,328.23 174.15,329.40 174.20,331.40 C174.25,333.40 172.82,336.13 172.30,338.00 C171.78,339.87 170.82,341.10 171.10,342.60 C171.38,344.10 172.77,345.68 174.00,347.00 C175.23,348.32 177.90,349.50 178.50,350.50 C179.10,351.50 178.68,353.17 177.60,353.00 C176.52,352.83 173.93,350.73 172.00,349.50 C170.07,348.27 167.75,346.08 166.00,345.60 C164.25,345.12 162.83,346.27 161.50,346.60 C160.17,346.93 158.70,346.70 158.00,347.60 C157.30,348.50 157.53,349.60 157.30,352.00 C157.07,354.40 157.12,360.33 156.60,362.00 C156.08,363.67 154.47,363.67 154.20,362.00 C153.93,360.33 154.95,354.33 155.00,352.00 C155.05,349.67 155.25,349.08 154.50,348.00 C153.75,346.92 151.92,345.92 150.50,345.50 C149.08,345.08 147.83,345.05 146.00,345.50 C144.17,345.95 141.37,347.78 139.50,348.20 C137.63,348.62 135.45,348.37 134.80,348.00 C134.15,347.63 134.32,346.80 135.60,346.00 C136.88,345.20 141.02,344.37 142.50,343.20 C143.98,342.03 144.33,340.72 144.50,339.00 C144.67,337.28 143.55,335.40 143.50,332.90 C143.45,330.40 143.98,326.48 144.20,324.00 C144.42,321.52 144.60,320.67 144.80,318.00 C145.00,315.33 145.22,310.80 145.40,308.00 C145.58,305.20 146.18,302.62 145.90,301.20 C145.62,299.78 144.28,300.17 143.70,299.50 C143.12,298.83 142.40,298.05 142.40,297.20 C142.40,296.35 143.02,295.15 143.70,294.40 C144.38,293.65 145.57,293.65 146.50,292.70 C147.43,291.75 148.35,290.12 149.30,288.70 C150.25,287.28 151.15,285.70 152.20,284.20 C153.25,282.70 154.57,281.03 155.60,279.70 C156.63,278.37 157.57,276.20 158.40,276.20 Z" fill="none" stroke="#808080" stroke-width="2.4" filter="url(#blur2)"/>
<rect x="134.8" y="276.2" width="43.7" height="85.8" filter="url(#fur)" opacity="0.5"/>
</g>
</g>
<g filter="url(#soft2)">
<ellipse cx="119.4" cy="306.3" rx="2.9" ry="4.6" fill="#4a3db3" transform="rotate(18 119.4 306.3)"/>
<ellipse cx="131.7" cy="306.6" rx="2.9" ry="4.5" fill="#4a3db3" transform="rotate(-28 131.7 306.6)"/>
<ellipse cx="151.3" cy="305.1" rx="4.9" ry="6.8" fill="#4640b0"/>
<ellipse cx="151.3" cy="305.40000000000003" rx="3.60" ry="5.20" fill="#3a6ccc"/>
<path d="M150.7,301.5 L154.20000000000002,308.7 L147.9,308.7 Z" fill="#34b4cc" stroke="#34b4cc" stroke-width="1.2" stroke-linejoin="round"/>
<path d="M150.7,302.7 L153.0,308 L149.10000000000002,308 Z" fill="#5cc048" stroke="#5cc048" stroke-width="0.6" stroke-linejoin="round"/>
<ellipse cx="151.20" cy="306.15" rx="0.7" ry="1.1" fill="#c8d43a"/>
<ellipse cx="161.5" cy="304.3" rx="5.4" ry="7.1" fill="#4640b0"/>
<ellipse cx="161.5" cy="304.6" rx="4.10" ry="5.50" fill="#3a6ccc"/>
<path d="M161.2,300.9 L164.9,308.2 L158.1,308.2 Z" fill="#34b4cc" stroke="#34b4cc" stroke-width="1.2" stroke-linejoin="round"/>
<path d="M161.2,302.09999999999997 L163.7,307.5 L159.3,307.5 Z" fill="#5cc048" stroke="#5cc048" stroke-width="0.6" stroke-linejoin="round"/>
<ellipse cx="161.70" cy="305.60" rx="0.7" ry="1.1" fill="#c8d43a"/>
</g>
</g>
<defs><linearGradient id="cbg" x1="0" y1="0" x2="0" y2="1"><stop offset="0" stop-color="#d62a2c"/><stop offset="0.07" stop-color="#d83a2a"/><stop offset="0.13" stop-color="#e2782c"/><stop offset="0.2" stop-color="#e6d234"/><stop offset="0.31" stop-color="#a8cc3c"/><stop offset="0.42" stop-color="#62ba46"/><stop offset="0.58" stop-color="#4cb25a"/><stop offset="0.68" stop-color="#3cb0c4"/><stop offset="0.77" stop-color="#3a7cc6"/><stop offset="0.86" stop-color="#3650b4"/><stop offset="1" stop-color="#3a2e94"/></linearGradient></defs>
<rect x="181.00" y="258.00" width="4.70" height="111.20" fill="url(#cbg)" />
<text x="181.00" y="255.60" font-size="2.2" fill="#777" textLength="21" lengthAdjust="spacingAndGlyphs" stroke="#777" stroke-width="0.18" >Luminescence</text>
<line x1="186.00" y1="258.00" x2="187.20" y2="258.00" stroke="#888" stroke-width="0.4"/>
<line x1="186.00" y1="275.00" x2="187.20" y2="275.00" stroke="#888" stroke-width="0.4"/>
<line x1="186.00" y1="293.00" x2="187.20" y2="293.00" stroke="#888" stroke-width="0.4"/>
<line x1="186.00" y1="310.00" x2="187.20" y2="310.00" stroke="#888" stroke-width="0.4"/>
<line x1="186.00" y1="328.00" x2="187.20" y2="328.00" stroke="#888" stroke-width="0.4"/>
<line x1="186.00" y1="345.00" x2="187.20" y2="345.00" stroke="#888" stroke-width="0.4"/>
<line x1="186.00" y1="362.00" x2="187.20" y2="362.00" stroke="#888" stroke-width="0.4"/>
<text x="188.00" y="259.00" font-size="1.8" fill="#888" stroke="#888" stroke-width="0.18" >6.0</text>
<text x="188.00" y="291.00" font-size="1.8" fill="#888" stroke="#888" stroke-width="0.18" >4.0</text>
<text x="188.00" y="323.00" font-size="1.8" fill="#888" stroke="#888" stroke-width="0.18" >2.0</text>
<text x="187.00" y="372.50" font-size="2.4" fill="#666" textLength="10" lengthAdjust="spacingAndGlyphs" stroke="#666" stroke-width="0.18" >Radiance</text>
<text x="187.00" y="375.50" font-size="2.2" fill="#666" textLength="12" lengthAdjust="spacingAndGlyphs" stroke="#666" stroke-width="0.18" >(p/sec/cm²/sr)</text>
<rect x="186.60" y="379.60" width="13.40" height="9.00" fill="#fff" stroke="#999" stroke-width="0.4" />
<line x1="187.50" y1="382.00" x2="198.50" y2="382.00" stroke="#bbb" stroke-width="0.6"/>
<line x1="187.50" y1="384.40" x2="198.50" y2="384.40" stroke="#bbb" stroke-width="0.6"/>
<line x1="187.50" y1="386.80" x2="198.50" y2="386.80" stroke="#bbb" stroke-width="0.6"/>
<text x="118.60" y="373.80" font-size="11.4" fill="#333" text-anchor="middle" textLength="17.4" lengthAdjust="spacingAndGlyphs" stroke="#333" stroke-width="0.18" >Luz</text>
<text x="164.25" y="373.80" font-size="11.4" fill="#333" text-anchor="middle" textLength="24.3" lengthAdjust="spacingAndGlyphs" stroke="#333" stroke-width="0.18" >hLuz</text>
<text x="215.90" y="274.60" font-size="10" fill="#333" stroke="#333" stroke-width="0.18" >(h)</text>
<line x1="256.40" y1="281.70" x2="256.40" y2="355.80" stroke="#222" stroke-width="1.3"/>
<line x1="255.80" y1="355.20" x2="372.30" y2="355.20" stroke="#222" stroke-width="1.3"/>
<line x1="253.90" y1="355.40" x2="256.40" y2="355.40" stroke="#222" stroke-width="1"/>
<text x="253.80" y="357.70" font-size="6.2" fill="#222" stroke="#222" stroke-width="0.15" text-anchor="end">10<tspan font-size="4.2" dy="-2.8">3</tspan></text>
<line x1="255.00" y1="349.92" x2="256.40" y2="349.92" stroke="#222" stroke-width="0.5"/>
<line x1="255.00" y1="346.72" x2="256.40" y2="346.72" stroke="#222" stroke-width="0.5"/>
<line x1="255.00" y1="344.44" x2="256.40" y2="344.44" stroke="#222" stroke-width="0.5"/>
<line x1="255.00" y1="342.68" x2="256.40" y2="342.68" stroke="#222" stroke-width="0.5"/>
<line x1="255.00" y1="341.24" x2="256.40" y2="341.24" stroke="#222" stroke-width="0.5"/>
<line x1="255.00" y1="340.02" x2="256.40" y2="340.02" stroke="#222" stroke-width="0.5"/>
<line x1="255.00" y1="338.96" x2="256.40" y2="338.96" stroke="#222" stroke-width="0.5"/>
<line x1="255.00" y1="338.03" x2="256.40" y2="338.03" stroke="#222" stroke-width="0.5"/>
<line x1="253.90" y1="337.20" x2="256.40" y2="337.20" stroke="#222" stroke-width="1"/>
<text x="253.80" y="339.50" font-size="6.2" fill="#222" stroke="#222" stroke-width="0.15" text-anchor="end">10<tspan font-size="4.2" dy="-2.8">4</tspan></text>
<line x1="255.00" y1="331.72" x2="256.40" y2="331.72" stroke="#222" stroke-width="0.5"/>
<line x1="255.00" y1="328.52" x2="256.40" y2="328.52" stroke="#222" stroke-width="0.5"/>
<line x1="255.00" y1="326.24" x2="256.40" y2="326.24" stroke="#222" stroke-width="0.5"/>
<line x1="255.00" y1="324.48" x2="256.40" y2="324.48" stroke="#222" stroke-width="0.5"/>
<line x1="255.00" y1="323.04" x2="256.40" y2="323.04" stroke="#222" stroke-width="0.5"/>
<line x1="255.00" y1="321.82" x2="256.40" y2="321.82" stroke="#222" stroke-width="0.5"/>
<line x1="255.00" y1="320.76" x2="256.40" y2="320.76" stroke="#222" stroke-width="0.5"/>
<line x1="255.00" y1="319.83" x2="256.40" y2="319.83" stroke="#222" stroke-width="0.5"/>
<line x1="253.90" y1="319.00" x2="256.40" y2="319.00" stroke="#222" stroke-width="1"/>
<text x="253.80" y="321.30" font-size="6.2" fill="#222" stroke="#222" stroke-width="0.15" text-anchor="end">10<tspan font-size="4.2" dy="-2.8">5</tspan></text>
<line x1="255.00" y1="313.52" x2="256.40" y2="313.52" stroke="#222" stroke-width="0.5"/>
<line x1="255.00" y1="310.32" x2="256.40" y2="310.32" stroke="#222" stroke-width="0.5"/>
<line x1="255.00" y1="308.04" x2="256.40" y2="308.04" stroke="#222" stroke-width="0.5"/>
<line x1="255.00" y1="306.28" x2="256.40" y2="306.28" stroke="#222" stroke-width="0.5"/>
<line x1="255.00" y1="304.84" x2="256.40" y2="304.84" stroke="#222" stroke-width="0.5"/>
<line x1="255.00" y1="303.62" x2="256.40" y2="303.62" stroke="#222" stroke-width="0.5"/>
<line x1="255.00" y1="302.56" x2="256.40" y2="302.56" stroke="#222" stroke-width="0.5"/>
<line x1="255.00" y1="301.63" x2="256.40" y2="301.63" stroke="#222" stroke-width="0.5"/>
<line x1="253.90" y1="300.80" x2="256.40" y2="300.80" stroke="#222" stroke-width="1"/>
<text x="253.80" y="303.10" font-size="6.2" fill="#222" stroke="#222" stroke-width="0.15" text-anchor="end">10<tspan font-size="4.2" dy="-2.8">6</tspan></text>
<line x1="255.00" y1="295.32" x2="256.40" y2="295.32" stroke="#222" stroke-width="0.5"/>
<line x1="255.00" y1="292.12" x2="256.40" y2="292.12" stroke="#222" stroke-width="0.5"/>
<line x1="255.00" y1="289.84" x2="256.40" y2="289.84" stroke="#222" stroke-width="0.5"/>
<line x1="255.00" y1="288.08" x2="256.40" y2="288.08" stroke="#222" stroke-width="0.5"/>
<line x1="255.00" y1="286.64" x2="256.40" y2="286.64" stroke="#222" stroke-width="0.5"/>
<line x1="255.00" y1="285.42" x2="256.40" y2="285.42" stroke="#222" stroke-width="0.5"/>
<line x1="255.00" y1="284.36" x2="256.40" y2="284.36" stroke="#222" stroke-width="0.5"/>
<line x1="255.00" y1="283.43" x2="256.40" y2="283.43" stroke="#222" stroke-width="0.5"/>
<line x1="253.90" y1="282.60" x2="256.40" y2="282.60" stroke="#222" stroke-width="1"/>
<text x="253.80" y="284.90" font-size="6.2" fill="#222" stroke="#222" stroke-width="0.15" text-anchor="end">10<tspan font-size="4.2" dy="-2.8">7</tspan></text>
<line x1="256.60" y1="355.20" x2="256.60" y2="357.60" stroke="#222" stroke-width="1"/>
<text x="256.60" y="363.80" font-size="6.6" fill="#222" text-anchor="middle" font-weight="bold" stroke="#222" stroke-width="0.18" >0</text>
<line x1="294.96" y1="355.20" x2="294.96" y2="357.60" stroke="#222" stroke-width="1"/>
<text x="294.96" y="363.80" font-size="6.6" fill="#222" text-anchor="middle" font-weight="bold" stroke="#222" stroke-width="0.18" >20</text>
<line x1="333.32" y1="355.20" x2="333.32" y2="357.60" stroke="#222" stroke-width="1"/>
<text x="333.32" y="363.80" font-size="6.6" fill="#222" text-anchor="middle" font-weight="bold" stroke="#222" stroke-width="0.18" >40</text>
<line x1="371.68" y1="355.20" x2="371.68" y2="357.60" stroke="#222" stroke-width="1"/>
<text x="371.68" y="363.80" font-size="6.6" fill="#222" text-anchor="middle" font-weight="bold" stroke="#222" stroke-width="0.18" >60</text>
<text x="314.70" y="372.00" font-size="6.8" fill="#222" text-anchor="middle" font-weight="bold" textLength="74.2" lengthAdjust="spacingAndGlyphs" stroke="#222" stroke-width="0.18" >Days(After implantation)</text>
<text x="232.60" y="317.00" font-size="7.3" fill="#222" text-anchor="middle" textLength="50.5" lengthAdjust="spacingAndGlyphs" transform="rotate(-90 232.60 317.00)" stroke="#222" stroke-width="0.18" >Average radiance</text>
<text x="241.0" y="316.5" font-size="7.3" fill="#222" stroke="#222" stroke-width="0.15" text-anchor="middle" transform="rotate(-90 241.0 316.5)">(p/s/cm<tspan font-size="4.6" dy="-3">2</tspan><tspan dy="3">/sr)</tspan></text>
<polyline points="256.9,314.3 279.7,341.0 293.0,337.7 314.3,334.3 323.9,324.0 333.7,317.0 352.2,290.6" fill="none" stroke="#111" stroke-width="1.2"/>
<circle cx="256.9" cy="314.3" r="1.5" fill="#111"/>
<circle cx="279.7" cy="341" r="1.5" fill="#111"/>
<circle cx="293" cy="337.7" r="1.5" fill="#111"/>
<circle cx="314.3" cy="334.3" r="1.5" fill="#111"/>
<circle cx="323.9" cy="324" r="1.5" fill="#111"/>
<circle cx="333.7" cy="317" r="1.5" fill="#111"/>
<circle cx="352.2" cy="290.6" r="1.5" fill="#111"/>
<line x1="314.30" y1="332.20" x2="314.30" y2="336.40" stroke="#111" stroke-width="1"/>
<line x1="312.50" y1="332.20" x2="316.10" y2="332.20" stroke="#111" stroke-width="1.1"/>
<line x1="312.50" y1="336.40" x2="316.10" y2="336.40" stroke="#111" stroke-width="1.1"/>
<line x1="333.70" y1="313.00" x2="333.70" y2="321.40" stroke="#111" stroke-width="1"/>
<line x1="331.90" y1="313.00" x2="335.50" y2="313.00" stroke="#111" stroke-width="1.1"/>
<line x1="331.90" y1="321.40" x2="335.50" y2="321.40" stroke="#111" stroke-width="1.1"/>
<line x1="352.20" y1="287.50" x2="352.20" y2="294.40" stroke="#111" stroke-width="1"/>
<line x1="350.40" y1="287.50" x2="354.00" y2="287.50" stroke="#111" stroke-width="1.1"/>
<line x1="350.40" y1="294.40" x2="354.00" y2="294.40" stroke="#111" stroke-width="1.1"/>
<clipPath id="cph0"><rect x="376" y="280.8" width="37.50" height="93.20"/></clipPath>
<clipPath id="cph1"><rect x="414.9" y="280.8" width="41.20" height="93.20"/></clipPath>
<clipPath id="cph2"><rect x="456.9" y="280.8" width="36.30" height="93.20"/></clipPath>
<clipPath id="cph3"><rect x="495.1" y="280.8" width="38.40" height="93.20"/></clipPath>
<g clip-path="url(#cph0)">
<rect x="376.00" y="280.80" width="37.50" height="93.20" fill="#333333" />
<defs><linearGradient id="fade565g" x1="0" y1="0" x2="0" y2="1"><stop offset="0" stop-color="#fff"/><stop offset="0.18" stop-color="#fff"/><stop offset="0.30" stop-color="#000"/></linearGradient><mask id="fade565"><rect x="376" y="280.8" width="37.5" height="93.19999999999999" fill="url(#fade565g)"/></mask></defs>
<g mask="url(#fade565)"><g filter="url(#soft2)">
<rect x="377.26" y="280.80" width="1.05" height="93.20" fill="#303030"/>
<rect x="379.55" y="280.80" width="1.65" height="93.20" fill="#454545"/>
<rect x="383.29" y="280.80" width="1.91" height="93.20" fill="#454545"/>
<rect x="387.31" y="280.80" width="1.13" height="93.20" fill="#2a2a2a"/>
<rect x="390.46" y="280.80" width="1.39" height="93.20" fill="#2a2a2a"/>
<rect x="393.61" y="280.80" width="1.90" height="93.20" fill="#2c2c2c"/>
<rect x="396.96" y="280.80" width="1.70" height="93.20" fill="#525252"/>
<rect x="400.34" y="280.80" width="1.84" height="93.20" fill="#4a4a4a"/>
<rect x="403.21" y="280.80" width="1.12" height="93.20" fill="#2a2a2a"/>
<rect x="406.00" y="280.80" width="1.12" height="93.20" fill="#4a4a4a"/>
<rect x="408.36" y="280.80" width="2.11" height="93.20" fill="#2c2c2c"/>
<rect x="412.26" y="280.80" width="1.35" height="93.20" fill="#303030"/>
</g></g>
<g filter="url(#soft)">
<clipPath id="mc6"><path d="M378.40,295.00 C378.47,293.65 378.47,290.80 379.20,289.40 C379.93,288.00 381.28,287.60 382.80,286.60 C384.32,285.60 386.18,284.13 388.30,283.40 C390.42,282.67 393.37,282.27 395.50,282.20 C397.63,282.13 399.37,281.93 401.10,283.00 C402.83,284.07 404.57,286.60 405.90,288.60 C407.23,290.60 408.25,292.62 409.10,295.00 C409.95,297.38 410.60,299.57 411.00,302.90 C411.40,306.23 411.45,311.32 411.50,315.00 C411.55,318.68 411.47,320.83 411.30,325.00 C411.13,329.17 410.72,335.53 410.50,340.00 C410.28,344.47 409.67,348.47 410.00,351.80 C410.33,355.13 411.83,357.63 412.50,360.00 C413.17,362.37 414.15,364.83 414.00,366.00 C413.85,367.17 413.27,368.58 411.60,367.00 C409.93,365.42 406.10,358.17 404.00,356.50 C401.90,354.83 400.43,356.67 399.00,357.00 C397.57,357.33 396.02,357.00 395.40,358.50 C394.78,360.00 395.33,363.33 395.30,366.00 C395.27,368.67 395.62,373.08 395.20,374.50 C394.78,375.92 393.20,375.92 392.80,374.50 C392.40,373.08 392.80,369.08 392.80,366.00 C392.80,362.92 393.93,358.02 392.80,356.00 C391.67,353.98 387.72,354.07 386.00,353.90 C384.28,353.73 383.25,354.07 382.50,355.00 C381.75,355.93 381.95,358.13 381.50,359.50 C381.05,360.87 380.78,362.62 379.80,363.20 C378.82,363.78 376.33,364.03 375.60,363.00 C374.87,361.97 375.08,358.50 375.40,357.00 C375.72,355.50 377.00,355.50 377.50,354.00 C378.00,352.50 378.23,350.33 378.40,348.00 C378.57,345.67 378.27,343.20 378.50,340.00 C378.73,336.80 379.47,333.63 379.80,328.80 C380.13,323.97 380.40,315.32 380.50,311.00 C380.60,306.68 380.68,305.15 380.40,302.90 C380.12,300.65 379.13,298.82 378.80,297.50 C378.47,296.18 378.33,296.35 378.40,295.00 Z"/></clipPath>
<path d="M378.40,295.00 C378.47,293.65 378.47,290.80 379.20,289.40 C379.93,288.00 381.28,287.60 382.80,286.60 C384.32,285.60 386.18,284.13 388.30,283.40 C390.42,282.67 393.37,282.27 395.50,282.20 C397.63,282.13 399.37,281.93 401.10,283.00 C402.83,284.07 404.57,286.60 405.90,288.60 C407.23,290.60 408.25,292.62 409.10,295.00 C409.95,297.38 410.60,299.57 411.00,302.90 C411.40,306.23 411.45,311.32 411.50,315.00 C411.55,318.68 411.47,320.83 411.30,325.00 C411.13,329.17 410.72,335.53 410.50,340.00 C410.28,344.47 409.67,348.47 410.00,351.80 C410.33,355.13 411.83,357.63 412.50,360.00 C413.17,362.37 414.15,364.83 414.00,366.00 C413.85,367.17 413.27,368.58 411.60,367.00 C409.93,365.42 406.10,358.17 404.00,356.50 C401.90,354.83 400.43,356.67 399.00,357.00 C397.57,357.33 396.02,357.00 395.40,358.50 C394.78,360.00 395.33,363.33 395.30,366.00 C395.27,368.67 395.62,373.08 395.20,374.50 C394.78,375.92 393.20,375.92 392.80,374.50 C392.40,373.08 392.80,369.08 392.80,366.00 C392.80,362.92 393.93,358.02 392.80,356.00 C391.67,353.98 387.72,354.07 386.00,353.90 C384.28,353.73 383.25,354.07 382.50,355.00 C381.75,355.93 381.95,358.13 381.50,359.50 C381.05,360.87 380.78,362.62 379.80,363.20 C378.82,363.78 376.33,364.03 375.60,363.00 C374.87,361.97 375.08,358.50 375.40,357.00 C375.72,355.50 377.00,355.50 377.50,354.00 C378.00,352.50 378.23,350.33 378.40,348.00 C378.57,345.67 378.27,343.20 378.50,340.00 C378.73,336.80 379.47,333.63 379.80,328.80 C380.13,323.97 380.40,315.32 380.50,311.00 C380.60,306.68 380.68,305.15 380.40,302.90 C380.12,300.65 379.13,298.82 378.80,297.50 C378.47,296.18 378.33,296.35 378.40,295.00 Z" fill="#d0d0d0" />
<g clip-path="url(#mc6)">
<ellipse cx="394.75" cy="322" rx="9" ry="26" fill="#f2f2f2" opacity="0.8" filter="url(#blur3)"/>
<path d="M378.40,295.00 C378.47,293.65 378.47,290.80 379.20,289.40 C379.93,288.00 381.28,287.60 382.80,286.60 C384.32,285.60 386.18,284.13 388.30,283.40 C390.42,282.67 393.37,282.27 395.50,282.20 C397.63,282.13 399.37,281.93 401.10,283.00 C402.83,284.07 404.57,286.60 405.90,288.60 C407.23,290.60 408.25,292.62 409.10,295.00 C409.95,297.38 410.60,299.57 411.00,302.90 C411.40,306.23 411.45,311.32 411.50,315.00 C411.55,318.68 411.47,320.83 411.30,325.00 C411.13,329.17 410.72,335.53 410.50,340.00 C410.28,344.47 409.67,348.47 410.00,351.80 C410.33,355.13 411.83,357.63 412.50,360.00 C413.17,362.37 414.15,364.83 414.00,366.00 C413.85,367.17 413.27,368.58 411.60,367.00 C409.93,365.42 406.10,358.17 404.00,356.50 C401.90,354.83 400.43,356.67 399.00,357.00 C397.57,357.33 396.02,357.00 395.40,358.50 C394.78,360.00 395.33,363.33 395.30,366.00 C395.27,368.67 395.62,373.08 395.20,374.50 C394.78,375.92 393.20,375.92 392.80,374.50 C392.40,373.08 392.80,369.08 392.80,366.00 C392.80,362.92 393.93,358.02 392.80,356.00 C391.67,353.98 387.72,354.07 386.00,353.90 C384.28,353.73 383.25,354.07 382.50,355.00 C381.75,355.93 381.95,358.13 381.50,359.50 C381.05,360.87 380.78,362.62 379.80,363.20 C378.82,363.78 376.33,364.03 375.60,363.00 C374.87,361.97 375.08,358.50 375.40,357.00 C375.72,355.50 377.00,355.50 377.50,354.00 C378.00,352.50 378.23,350.33 378.40,348.00 C378.57,345.67 378.27,343.20 378.50,340.00 C378.73,336.80 379.47,333.63 379.80,328.80 C380.13,323.97 380.40,315.32 380.50,311.00 C380.60,306.68 380.68,305.15 380.40,302.90 C380.12,300.65 379.13,298.82 378.80,297.50 C378.47,296.18 378.33,296.35 378.40,295.00 Z" fill="none" stroke="#808080" stroke-width="2.4" filter="url(#blur2)"/>
<rect x="375.4" y="282.2" width="38.6" height="92.3" filter="url(#fur)" opacity="0.5"/>
</g>
</g>
</g>
<g clip-path="url(#cph1)">
<rect x="414.90" y="280.80" width="41.20" height="93.20" fill="#333333" />
<defs><linearGradient id="fade592g" x1="0" y1="0" x2="0" y2="1"><stop offset="0" stop-color="#fff"/><stop offset="0.18" stop-color="#fff"/><stop offset="0.30" stop-color="#000"/></linearGradient><mask id="fade592"><rect x="414.9" y="280.8" width="41.200000000000045" height="93.19999999999999" fill="url(#fade592g)"/></mask></defs>
<g mask="url(#fade592)"><g filter="url(#soft2)">
<rect x="416.09" y="280.80" width="1.60" height="93.20" fill="#303030"/>
<rect x="418.50" y="280.80" width="1.63" height="93.20" fill="#454545"/>
<rect x="421.20" y="280.80" width="1.76" height="93.20" fill="#303030"/>
<rect x="424.59" y="280.80" width="1.03" height="93.20" fill="#2c2c2c"/>
<rect x="427.70" y="280.80" width="1.42" height="93.20" fill="#2a2a2a"/>
<rect x="430.59" y="280.80" width="1.63" height="93.20" fill="#4a4a4a"/>
<rect x="434.40" y="280.80" width="1.87" height="93.20" fill="#525252"/>
<rect x="437.92" y="280.80" width="1.51" height="93.20" fill="#4a4a4a"/>
<rect x="441.51" y="280.80" width="1.35" height="93.20" fill="#2a2a2a"/>
<rect x="444.07" y="280.80" width="2.16" height="93.20" fill="#454545"/>
<rect x="448.01" y="280.80" width="1.25" height="93.20" fill="#4a4a4a"/>
<rect x="450.61" y="280.80" width="1.13" height="93.20" fill="#4a4a4a"/>
<rect x="453.20" y="280.80" width="1.96" height="93.20" fill="#525252"/>
<rect x="455.99" y="280.80" width="1.97" height="93.20" fill="#303030"/>
</g></g>
<g filter="url(#soft)">
<clipPath id="mc7"><path d="M435.60,281.60 C436.68,281.63 437.80,282.77 438.80,283.80 C439.80,284.83 440.67,286.20 441.60,287.80 C442.53,289.40 443.53,291.53 444.40,293.40 C445.27,295.27 446.47,297.40 446.80,299.00 C447.13,300.60 446.27,301.27 446.40,303.00 C446.53,304.73 447.20,306.88 447.60,309.40 C448.00,311.92 448.38,314.67 448.80,318.10 C449.22,321.53 449.77,325.52 450.10,330.00 C450.43,334.48 450.88,341.60 450.80,345.00 C450.72,348.40 449.48,349.13 449.60,350.40 C449.72,351.67 450.35,351.83 451.50,352.60 C452.65,353.37 455.67,354.20 456.50,355.00 C457.33,355.80 457.90,357.40 456.50,357.40 C455.10,357.40 450.62,355.40 448.10,355.00 C445.58,354.60 443.25,354.58 441.40,355.00 C439.55,355.42 437.93,356.33 437.00,357.50 C436.07,358.67 436.27,360.25 435.80,362.00 C435.33,363.75 434.57,365.92 434.20,368.00 C433.83,370.08 434.10,373.42 433.60,374.50 C433.10,375.58 431.52,375.58 431.20,374.50 C430.88,373.42 431.33,370.08 431.70,368.00 C432.07,365.92 433.15,363.83 433.40,362.00 C433.65,360.17 433.87,358.40 433.20,357.00 C432.53,355.60 431.15,354.30 429.40,353.60 C427.65,352.90 424.35,352.48 422.70,352.80 C421.05,353.12 420.37,353.67 419.50,355.50 C418.63,357.33 418.22,362.45 417.50,363.80 C416.78,365.15 415.42,365.07 415.20,363.60 C414.98,362.13 415.47,357.43 416.20,355.00 C416.93,352.57 418.80,351.83 419.60,349.00 C420.40,346.17 420.70,343.15 421.00,338.00 C421.30,332.85 421.10,322.87 421.40,318.10 C421.70,313.33 422.30,311.92 422.80,309.40 C423.30,306.88 423.87,304.87 424.40,303.00 C424.93,301.13 425.87,299.40 426.00,298.20 C426.13,297.00 425.00,296.87 425.20,295.80 C425.40,294.73 426.27,293.27 427.20,291.80 C428.13,290.33 429.95,288.37 430.80,287.00 C431.65,285.63 431.50,284.50 432.30,283.60 C433.10,282.70 434.52,281.57 435.60,281.60 Z"/></clipPath>
<path d="M435.60,281.60 C436.68,281.63 437.80,282.77 438.80,283.80 C439.80,284.83 440.67,286.20 441.60,287.80 C442.53,289.40 443.53,291.53 444.40,293.40 C445.27,295.27 446.47,297.40 446.80,299.00 C447.13,300.60 446.27,301.27 446.40,303.00 C446.53,304.73 447.20,306.88 447.60,309.40 C448.00,311.92 448.38,314.67 448.80,318.10 C449.22,321.53 449.77,325.52 450.10,330.00 C450.43,334.48 450.88,341.60 450.80,345.00 C450.72,348.40 449.48,349.13 449.60,350.40 C449.72,351.67 450.35,351.83 451.50,352.60 C452.65,353.37 455.67,354.20 456.50,355.00 C457.33,355.80 457.90,357.40 456.50,357.40 C455.10,357.40 450.62,355.40 448.10,355.00 C445.58,354.60 443.25,354.58 441.40,355.00 C439.55,355.42 437.93,356.33 437.00,357.50 C436.07,358.67 436.27,360.25 435.80,362.00 C435.33,363.75 434.57,365.92 434.20,368.00 C433.83,370.08 434.10,373.42 433.60,374.50 C433.10,375.58 431.52,375.58 431.20,374.50 C430.88,373.42 431.33,370.08 431.70,368.00 C432.07,365.92 433.15,363.83 433.40,362.00 C433.65,360.17 433.87,358.40 433.20,357.00 C432.53,355.60 431.15,354.30 429.40,353.60 C427.65,352.90 424.35,352.48 422.70,352.80 C421.05,353.12 420.37,353.67 419.50,355.50 C418.63,357.33 418.22,362.45 417.50,363.80 C416.78,365.15 415.42,365.07 415.20,363.60 C414.98,362.13 415.47,357.43 416.20,355.00 C416.93,352.57 418.80,351.83 419.60,349.00 C420.40,346.17 420.70,343.15 421.00,338.00 C421.30,332.85 421.10,322.87 421.40,318.10 C421.70,313.33 422.30,311.92 422.80,309.40 C423.30,306.88 423.87,304.87 424.40,303.00 C424.93,301.13 425.87,299.40 426.00,298.20 C426.13,297.00 425.00,296.87 425.20,295.80 C425.40,294.73 426.27,293.27 427.20,291.80 C428.13,290.33 429.95,288.37 430.80,287.00 C431.65,285.63 431.50,284.50 432.30,283.60 C433.10,282.70 434.52,281.57 435.60,281.60 Z" fill="#d0d0d0" />
<g clip-path="url(#mc7)">
<ellipse cx="435.5" cy="322" rx="9" ry="26" fill="#f2f2f2" opacity="0.8" filter="url(#blur3)"/>
<path d="M435.60,281.60 C436.68,281.63 437.80,282.77 438.80,283.80 C439.80,284.83 440.67,286.20 441.60,287.80 C442.53,289.40 443.53,291.53 444.40,293.40 C445.27,295.27 446.47,297.40 446.80,299.00 C447.13,300.60 446.27,301.27 446.40,303.00 C446.53,304.73 447.20,306.88 447.60,309.40 C448.00,311.92 448.38,314.67 448.80,318.10 C449.22,321.53 449.77,325.52 450.10,330.00 C450.43,334.48 450.88,341.60 450.80,345.00 C450.72,348.40 449.48,349.13 449.60,350.40 C449.72,351.67 450.35,351.83 451.50,352.60 C452.65,353.37 455.67,354.20 456.50,355.00 C457.33,355.80 457.90,357.40 456.50,357.40 C455.10,357.40 450.62,355.40 448.10,355.00 C445.58,354.60 443.25,354.58 441.40,355.00 C439.55,355.42 437.93,356.33 437.00,357.50 C436.07,358.67 436.27,360.25 435.80,362.00 C435.33,363.75 434.57,365.92 434.20,368.00 C433.83,370.08 434.10,373.42 433.60,374.50 C433.10,375.58 431.52,375.58 431.20,374.50 C430.88,373.42 431.33,370.08 431.70,368.00 C432.07,365.92 433.15,363.83 433.40,362.00 C433.65,360.17 433.87,358.40 433.20,357.00 C432.53,355.60 431.15,354.30 429.40,353.60 C427.65,352.90 424.35,352.48 422.70,352.80 C421.05,353.12 420.37,353.67 419.50,355.50 C418.63,357.33 418.22,362.45 417.50,363.80 C416.78,365.15 415.42,365.07 415.20,363.60 C414.98,362.13 415.47,357.43 416.20,355.00 C416.93,352.57 418.80,351.83 419.60,349.00 C420.40,346.17 420.70,343.15 421.00,338.00 C421.30,332.85 421.10,322.87 421.40,318.10 C421.70,313.33 422.30,311.92 422.80,309.40 C423.30,306.88 423.87,304.87 424.40,303.00 C424.93,301.13 425.87,299.40 426.00,298.20 C426.13,297.00 425.00,296.87 425.20,295.80 C425.40,294.73 426.27,293.27 427.20,291.80 C428.13,290.33 429.95,288.37 430.80,287.00 C431.65,285.63 431.50,284.50 432.30,283.60 C433.10,282.70 434.52,281.57 435.60,281.60 Z" fill="none" stroke="#808080" stroke-width="2.4" filter="url(#blur2)"/>
<rect x="415.2" y="281.6" width="41.3" height="92.9" filter="url(#fur)" opacity="0.5"/>
</g>
</g>
</g>
<g clip-path="url(#cph2)">
<rect x="456.90" y="280.80" width="36.30" height="93.20" fill="#333333" />
<defs><linearGradient id="fade621g" x1="0" y1="0" x2="0" y2="1"><stop offset="0" stop-color="#fff"/><stop offset="0.18" stop-color="#fff"/><stop offset="0.30" stop-color="#000"/></linearGradient><mask id="fade621"><rect x="456.9" y="280.8" width="36.30000000000001" height="93.19999999999999" fill="url(#fade621g)"/></mask></defs>
<g mask="url(#fade621)"><g filter="url(#soft2)">
<rect x="457.23" y="280.80" width="1.61" height="93.20" fill="#2a2a2a"/>
<rect x="459.81" y="280.80" width="1.24" height="93.20" fill="#2c2c2c"/>
<rect x="462.98" y="280.80" width="1.85" height="93.20" fill="#4a4a4a"/>
<rect x="466.39" y="280.80" width="1.65" height="93.20" fill="#454545"/>
<rect x="470.24" y="280.80" width="1.95" height="93.20" fill="#454545"/>
<rect x="473.07" y="280.80" width="1.50" height="93.20" fill="#454545"/>
<rect x="476.64" y="280.80" width="1.27" height="93.20" fill="#2c2c2c"/>
<rect x="479.88" y="280.80" width="1.83" height="93.20" fill="#525252"/>
<rect x="483.95" y="280.80" width="2.08" height="93.20" fill="#454545"/>
<rect x="487.22" y="280.80" width="1.47" height="93.20" fill="#303030"/>
<rect x="490.38" y="280.80" width="2.05" height="93.20" fill="#303030"/>
</g></g>
<g filter="url(#soft)">
<clipPath id="mc8"><path d="M475.30,281.30 C476.48,281.42 478.17,284.92 478.90,286.20 C479.63,287.48 479.10,287.95 479.70,289.00 C480.30,290.05 481.57,291.25 482.50,292.50 C483.43,293.75 484.50,295.17 485.30,296.50 C486.10,297.83 487.10,299.30 487.30,300.50 C487.50,301.70 486.83,302.23 486.50,303.70 C486.17,305.17 485.25,304.92 485.30,309.30 C485.35,313.68 486.33,324.05 486.80,330.00 C487.27,335.95 487.88,341.38 488.10,345.00 C488.32,348.62 487.20,350.78 488.10,351.70 C489.00,352.62 492.60,350.28 493.50,350.50 C494.40,350.72 494.73,351.82 493.50,353.00 C492.27,354.18 488.23,356.63 486.10,357.60 C483.97,358.57 482.22,358.20 480.70,358.80 C479.18,359.40 477.62,358.58 477.00,361.20 C476.38,363.82 477.50,372.28 477.00,374.50 C476.50,376.72 474.50,376.75 474.00,374.50 C473.50,372.25 474.43,363.52 474.00,361.00 C473.57,358.48 472.95,360.20 471.40,359.40 C469.85,358.60 466.72,356.85 464.70,356.20 C462.68,355.55 460.87,355.28 459.30,355.50 C457.73,355.72 456.02,357.58 455.30,357.50 C454.58,357.42 454.33,355.97 455.00,355.00 C455.67,354.03 458.47,354.20 459.30,351.70 C460.13,349.20 459.77,343.62 460.00,340.00 C460.23,336.38 460.13,335.12 460.70,330.00 C461.27,324.88 462.68,314.08 463.40,309.30 C464.12,304.52 464.40,303.57 465.00,301.30 C465.60,299.03 466.33,297.42 467.00,295.70 C467.67,293.98 468.35,292.12 469.00,291.00 C469.65,289.88 470.43,289.92 470.90,289.00 C471.37,288.08 471.07,286.78 471.80,285.50 C472.53,284.22 474.12,281.18 475.30,281.30 Z"/></clipPath>
<path d="M475.30,281.30 C476.48,281.42 478.17,284.92 478.90,286.20 C479.63,287.48 479.10,287.95 479.70,289.00 C480.30,290.05 481.57,291.25 482.50,292.50 C483.43,293.75 484.50,295.17 485.30,296.50 C486.10,297.83 487.10,299.30 487.30,300.50 C487.50,301.70 486.83,302.23 486.50,303.70 C486.17,305.17 485.25,304.92 485.30,309.30 C485.35,313.68 486.33,324.05 486.80,330.00 C487.27,335.95 487.88,341.38 488.10,345.00 C488.32,348.62 487.20,350.78 488.10,351.70 C489.00,352.62 492.60,350.28 493.50,350.50 C494.40,350.72 494.73,351.82 493.50,353.00 C492.27,354.18 488.23,356.63 486.10,357.60 C483.97,358.57 482.22,358.20 480.70,358.80 C479.18,359.40 477.62,358.58 477.00,361.20 C476.38,363.82 477.50,372.28 477.00,374.50 C476.50,376.72 474.50,376.75 474.00,374.50 C473.50,372.25 474.43,363.52 474.00,361.00 C473.57,358.48 472.95,360.20 471.40,359.40 C469.85,358.60 466.72,356.85 464.70,356.20 C462.68,355.55 460.87,355.28 459.30,355.50 C457.73,355.72 456.02,357.58 455.30,357.50 C454.58,357.42 454.33,355.97 455.00,355.00 C455.67,354.03 458.47,354.20 459.30,351.70 C460.13,349.20 459.77,343.62 460.00,340.00 C460.23,336.38 460.13,335.12 460.70,330.00 C461.27,324.88 462.68,314.08 463.40,309.30 C464.12,304.52 464.40,303.57 465.00,301.30 C465.60,299.03 466.33,297.42 467.00,295.70 C467.67,293.98 468.35,292.12 469.00,291.00 C469.65,289.88 470.43,289.92 470.90,289.00 C471.37,288.08 471.07,286.78 471.80,285.50 C472.53,284.22 474.12,281.18 475.30,281.30 Z" fill="#d0d0d0" />
<g clip-path="url(#mc8)">
<ellipse cx="475.04999999999995" cy="322" rx="9" ry="26" fill="#f2f2f2" opacity="0.8" filter="url(#blur3)"/>
<path d="M475.30,281.30 C476.48,281.42 478.17,284.92 478.90,286.20 C479.63,287.48 479.10,287.95 479.70,289.00 C480.30,290.05 481.57,291.25 482.50,292.50 C483.43,293.75 484.50,295.17 485.30,296.50 C486.10,297.83 487.10,299.30 487.30,300.50 C487.50,301.70 486.83,302.23 486.50,303.70 C486.17,305.17 485.25,304.92 485.30,309.30 C485.35,313.68 486.33,324.05 486.80,330.00 C487.27,335.95 487.88,341.38 488.10,345.00 C488.32,348.62 487.20,350.78 488.10,351.70 C489.00,352.62 492.60,350.28 493.50,350.50 C494.40,350.72 494.73,351.82 493.50,353.00 C492.27,354.18 488.23,356.63 486.10,357.60 C483.97,358.57 482.22,358.20 480.70,358.80 C479.18,359.40 477.62,358.58 477.00,361.20 C476.38,363.82 477.50,372.28 477.00,374.50 C476.50,376.72 474.50,376.75 474.00,374.50 C473.50,372.25 474.43,363.52 474.00,361.00 C473.57,358.48 472.95,360.20 471.40,359.40 C469.85,358.60 466.72,356.85 464.70,356.20 C462.68,355.55 460.87,355.28 459.30,355.50 C457.73,355.72 456.02,357.58 455.30,357.50 C454.58,357.42 454.33,355.97 455.00,355.00 C455.67,354.03 458.47,354.20 459.30,351.70 C460.13,349.20 459.77,343.62 460.00,340.00 C460.23,336.38 460.13,335.12 460.70,330.00 C461.27,324.88 462.68,314.08 463.40,309.30 C464.12,304.52 464.40,303.57 465.00,301.30 C465.60,299.03 466.33,297.42 467.00,295.70 C467.67,293.98 468.35,292.12 469.00,291.00 C469.65,289.88 470.43,289.92 470.90,289.00 C471.37,288.08 471.07,286.78 471.80,285.50 C472.53,284.22 474.12,281.18 475.30,281.30 Z" fill="none" stroke="#808080" stroke-width="2.4" filter="url(#blur2)"/>
<rect x="455.0" y="281.3" width="38.5" height="93.2" filter="url(#fur)" opacity="0.5"/>
</g>
</g>
</g>
<g clip-path="url(#cph3)">
<rect x="495.10" y="280.80" width="38.40" height="93.20" fill="#333333" />
<defs><linearGradient id="fade647g" x1="0" y1="0" x2="0" y2="1"><stop offset="0" stop-color="#fff"/><stop offset="0.18" stop-color="#fff"/><stop offset="0.30" stop-color="#000"/></linearGradient><mask id="fade647"><rect x="495.1" y="280.8" width="38.39999999999998" height="93.19999999999999" fill="url(#fade647g)"/></mask></defs>
<g mask="url(#fade647)"><g filter="url(#soft2)">
<rect x="496.41" y="280.80" width="1.64" height="93.20" fill="#4a4a4a"/>
<rect x="500.13" y="280.80" width="1.84" height="93.20" fill="#4a4a4a"/>
<rect x="503.40" y="280.80" width="1.14" height="93.20" fill="#454545"/>
<rect x="506.10" y="280.80" width="2.16" height="93.20" fill="#2c2c2c"/>
<rect x="509.87" y="280.80" width="1.48" height="93.20" fill="#2a2a2a"/>
<rect x="513.45" y="280.80" width="1.75" height="93.20" fill="#4a4a4a"/>
<rect x="517.57" y="280.80" width="1.39" height="93.20" fill="#303030"/>
<rect x="520.71" y="280.80" width="1.91" height="93.20" fill="#525252"/>
<rect x="524.38" y="280.80" width="1.96" height="93.20" fill="#525252"/>
<rect x="527.85" y="280.80" width="1.98" height="93.20" fill="#525252"/>
<rect x="530.89" y="280.80" width="1.64" height="93.20" fill="#525252"/>
</g></g>
<g filter="url(#soft)">
<clipPath id="mc9"><path d="M512.10,286.40 C514.27,286.17 516.77,286.50 518.50,287.00 C520.23,287.50 521.43,288.22 522.50,289.40 C523.57,290.58 524.37,292.38 524.90,294.10 C525.43,295.82 525.30,297.97 525.70,299.70 C526.10,301.43 527.10,302.90 527.30,304.50 C527.50,306.10 526.55,305.05 526.90,309.30 C527.25,313.55 528.75,324.88 529.40,330.00 C530.05,335.12 530.80,336.83 530.80,340.00 C530.80,343.17 529.03,347.13 529.40,349.00 C529.77,350.87 532.23,350.45 533.00,351.20 C533.77,351.95 535.48,352.27 534.00,353.50 C532.52,354.73 527.10,357.25 524.10,358.60 C521.10,359.95 517.65,361.00 516.00,361.60 C514.35,362.20 514.50,360.05 514.20,362.20 C513.90,364.35 514.70,372.45 514.20,374.50 C513.70,376.55 511.70,376.58 511.20,374.50 C510.70,372.42 511.73,364.35 511.20,362.00 C510.67,359.65 509.42,361.18 508.00,360.40 C506.58,359.62 504.62,358.03 502.70,357.30 C500.78,356.57 497.87,356.55 496.50,356.00 C495.13,355.45 494.70,354.83 494.50,354.00 C494.30,353.17 495.05,353.33 495.30,351.00 C495.55,348.67 495.43,343.50 496.00,340.00 C496.57,336.50 498.00,335.12 498.70,330.00 C499.40,324.88 499.88,313.82 500.20,309.30 C500.52,304.78 500.47,305.03 500.60,302.90 C500.73,300.77 500.73,298.37 501.00,296.50 C501.27,294.63 501.45,293.05 502.20,291.70 C502.95,290.35 503.85,289.28 505.50,288.40 C507.15,287.52 509.93,286.63 512.10,286.40 Z"/></clipPath>
<path d="M512.10,286.40 C514.27,286.17 516.77,286.50 518.50,287.00 C520.23,287.50 521.43,288.22 522.50,289.40 C523.57,290.58 524.37,292.38 524.90,294.10 C525.43,295.82 525.30,297.97 525.70,299.70 C526.10,301.43 527.10,302.90 527.30,304.50 C527.50,306.10 526.55,305.05 526.90,309.30 C527.25,313.55 528.75,324.88 529.40,330.00 C530.05,335.12 530.80,336.83 530.80,340.00 C530.80,343.17 529.03,347.13 529.40,349.00 C529.77,350.87 532.23,350.45 533.00,351.20 C533.77,351.95 535.48,352.27 534.00,353.50 C532.52,354.73 527.10,357.25 524.10,358.60 C521.10,359.95 517.65,361.00 516.00,361.60 C514.35,362.20 514.50,360.05 514.20,362.20 C513.90,364.35 514.70,372.45 514.20,374.50 C513.70,376.55 511.70,376.58 511.20,374.50 C510.70,372.42 511.73,364.35 511.20,362.00 C510.67,359.65 509.42,361.18 508.00,360.40 C506.58,359.62 504.62,358.03 502.70,357.30 C500.78,356.57 497.87,356.55 496.50,356.00 C495.13,355.45 494.70,354.83 494.50,354.00 C494.30,353.17 495.05,353.33 495.30,351.00 C495.55,348.67 495.43,343.50 496.00,340.00 C496.57,336.50 498.00,335.12 498.70,330.00 C499.40,324.88 499.88,313.82 500.20,309.30 C500.52,304.78 500.47,305.03 500.60,302.90 C500.73,300.77 500.73,298.37 501.00,296.50 C501.27,294.63 501.45,293.05 502.20,291.70 C502.95,290.35 503.85,289.28 505.50,288.40 C507.15,287.52 509.93,286.63 512.10,286.40 Z" fill="#d0d0d0" />
<g clip-path="url(#mc9)">
<ellipse cx="514.3" cy="322" rx="9" ry="26" fill="#f2f2f2" opacity="0.8" filter="url(#blur3)"/>
<path d="M512.10,286.40 C514.27,286.17 516.77,286.50 518.50,287.00 C520.23,287.50 521.43,288.22 522.50,289.40 C523.57,290.58 524.37,292.38 524.90,294.10 C525.43,295.82 525.30,297.97 525.70,299.70 C526.10,301.43 527.10,302.90 527.30,304.50 C527.50,306.10 526.55,305.05 526.90,309.30 C527.25,313.55 528.75,324.88 529.40,330.00 C530.05,335.12 530.80,336.83 530.80,340.00 C530.80,343.17 529.03,347.13 529.40,349.00 C529.77,350.87 532.23,350.45 533.00,351.20 C533.77,351.95 535.48,352.27 534.00,353.50 C532.52,354.73 527.10,357.25 524.10,358.60 C521.10,359.95 517.65,361.00 516.00,361.60 C514.35,362.20 514.50,360.05 514.20,362.20 C513.90,364.35 514.70,372.45 514.20,374.50 C513.70,376.55 511.70,376.58 511.20,374.50 C510.70,372.42 511.73,364.35 511.20,362.00 C510.67,359.65 509.42,361.18 508.00,360.40 C506.58,359.62 504.62,358.03 502.70,357.30 C500.78,356.57 497.87,356.55 496.50,356.00 C495.13,355.45 494.70,354.83 494.50,354.00 C494.30,353.17 495.05,353.33 495.30,351.00 C495.55,348.67 495.43,343.50 496.00,340.00 C496.57,336.50 498.00,335.12 498.70,330.00 C499.40,324.88 499.88,313.82 500.20,309.30 C500.52,304.78 500.47,305.03 500.60,302.90 C500.73,300.77 500.73,298.37 501.00,296.50 C501.27,294.63 501.45,293.05 502.20,291.70 C502.95,290.35 503.85,289.28 505.50,288.40 C507.15,287.52 509.93,286.63 512.10,286.40 Z" fill="none" stroke="#808080" stroke-width="2.4" filter="url(#blur2)"/>
<rect x="494.5" y="286.4" width="39.5" height="88.1" filter="url(#fur)" opacity="0.5"/>
</g>
</g>
</g>
<line x1="414.20" y1="280.80" x2="414.20" y2="374.00" stroke="#e8e8e8" stroke-width="1"/>
<line x1="456.50" y1="280.80" x2="456.50" y2="374.00" stroke="#e8e8e8" stroke-width="1"/>
<line x1="494.20" y1="280.80" x2="494.20" y2="374.00" stroke="#e8e8e8" stroke-width="1"/>
<g filter="url(#soft2)">
<rect x="376" y="297" width="3.6" height="1.2" fill="#5a52c0"/>
<ellipse cx="399.4" cy="337.4" rx="7.3" ry="8.3" fill="#4a3db3"/>
<circle cx="405.5" cy="343.5" r="1.2" fill="#5a50c0"/>
<circle cx="408" cy="345.5" r="1" fill="#5a50c0"/>
<circle cx="404" cy="346.8" r="1.3" fill="#5a50c0"/>
<circle cx="406.8" cy="339" r="0.8" fill="#5a50c0"/>
<circle cx="397.5" cy="326.8" r="0.8" fill="#5a50c0"/>
<circle cx="409.5" cy="347.5" r="0.8" fill="#5a50c0"/>
<path d="M432.00,331.50 C432.95,330.05 434.92,330.02 436.50,329.80 C438.08,329.58 440.00,329.58 441.50,330.20 C443.00,330.82 444.58,332.03 445.50,333.50 C446.42,334.97 446.92,337.17 447.00,339.00 C447.08,340.83 446.83,343.13 446.00,344.50 C445.17,345.87 443.58,346.78 442.00,347.20 C440.42,347.62 438.08,347.50 436.50,347.00 C434.92,346.50 433.45,345.62 432.50,344.20 C431.55,342.78 430.88,340.62 430.80,338.50 C430.72,336.38 431.05,332.95 432.00,331.50 Z" fill="#4a3db3"/>
<path d="M470.00,329.50 C471.75,327.73 474.42,327.48 476.50,327.40 C478.58,327.32 480.88,327.90 482.50,329.00 C484.12,330.10 485.48,331.83 486.20,334.00 C486.92,336.17 487.00,339.25 486.80,342.00 C486.60,344.75 486.05,348.08 485.00,350.50 C483.95,352.92 482.17,355.28 480.50,356.50 C478.83,357.72 476.83,358.05 475.00,357.80 C473.17,357.55 470.92,356.63 469.50,355.00 C468.08,353.37 467.08,350.83 466.50,348.00 C465.92,345.17 465.42,341.08 466.00,338.00 C466.58,334.92 468.25,331.27 470.00,329.50 Z" fill="#4a3db3"/>
<ellipse cx="474.5" cy="340.5" rx="5" ry="6" fill="#4856c0"/>
<ellipse cx="473.8" cy="339.8" rx="2" ry="2.5" fill="#4c78d0"/>
<circle cx="482.3" cy="345.7" r="2.2" fill="#2fb0b8"/><circle cx="482.3" cy="345.7" r="1.3" fill="#8fd040"/>
<path d="M515.40,323.40 C517.33,323.00 518.80,324.45 520.60,326.10 C522.40,327.75 524.75,330.82 526.20,333.30 C527.65,335.78 528.78,338.77 529.30,341.00 C529.82,343.23 529.47,344.73 529.30,346.70 C529.13,348.67 529.42,351.00 528.30,352.80 C527.18,354.60 524.75,356.97 522.60,357.50 C520.45,358.03 517.58,356.75 515.40,356.00 C513.22,355.25 510.95,354.03 509.50,353.00 C508.05,351.97 507.47,351.88 506.70,349.80 C505.93,347.72 505.05,343.13 504.90,340.50 C504.75,337.87 505.12,336.00 505.80,334.00 C506.48,332.00 507.40,330.27 509.00,328.50 C510.60,326.73 513.47,323.80 515.40,323.40 Z" fill="#4640b0"/>
<path d="M516.60,331.40 C518.22,331.27 520.15,332.45 521.20,333.50 C522.25,334.55 522.75,336.22 522.90,337.70 C523.05,339.18 523.02,341.27 522.10,342.40 C521.18,343.53 518.95,344.37 517.40,344.50 C515.85,344.63 513.93,344.05 512.80,343.20 C511.67,342.35 510.82,340.88 510.60,339.40 C510.38,337.92 510.50,335.63 511.50,334.30 C512.50,332.97 514.98,331.53 516.60,331.40 Z" fill="#3a6cc8" stroke="#3a6cc8" stroke-width="8.6" stroke-linejoin="round"/>
<path d="M522.90,342.80 C523.93,342.83 525.57,343.42 526.20,344.20 C526.83,344.98 526.98,346.50 526.70,347.50 C526.42,348.50 525.45,349.75 524.50,350.20 C523.55,350.65 521.90,350.70 521.00,350.20 C520.10,349.70 519.27,348.23 519.10,347.20 C518.93,346.17 519.37,344.73 520.00,344.00 C520.63,343.27 521.87,342.77 522.90,342.80 Z" fill="#3a6cc8" stroke="#3a6cc8" stroke-width="8.6" stroke-linejoin="round"/>
<path d="M516.60,331.40 C518.22,331.27 520.15,332.45 521.20,333.50 C522.25,334.55 522.75,336.22 522.90,337.70 C523.05,339.18 523.02,341.27 522.10,342.40 C521.18,343.53 518.95,344.37 517.40,344.50 C515.85,344.63 513.93,344.05 512.80,343.20 C511.67,342.35 510.82,340.88 510.60,339.40 C510.38,337.92 510.50,335.63 511.50,334.30 C512.50,332.97 514.98,331.53 516.60,331.40 Z" fill="#34b0cc" stroke="#34b0cc" stroke-width="6.4" stroke-linejoin="round"/>
<path d="M522.90,342.80 C523.93,342.83 525.57,343.42 526.20,344.20 C526.83,344.98 526.98,346.50 526.70,347.50 C526.42,348.50 525.45,349.75 524.50,350.20 C523.55,350.65 521.90,350.70 521.00,350.20 C520.10,349.70 519.27,348.23 519.10,347.20 C518.93,346.17 519.37,344.73 520.00,344.00 C520.63,343.27 521.87,342.77 522.90,342.80 Z" fill="#34b0cc" stroke="#34b0cc" stroke-width="6.4" stroke-linejoin="round"/>
<path d="M516.60,331.40 C518.22,331.27 520.15,332.45 521.20,333.50 C522.25,334.55 522.75,336.22 522.90,337.70 C523.05,339.18 523.02,341.27 522.10,342.40 C521.18,343.53 518.95,344.37 517.40,344.50 C515.85,344.63 513.93,344.05 512.80,343.20 C511.67,342.35 510.82,340.88 510.60,339.40 C510.38,337.92 510.50,335.63 511.50,334.30 C512.50,332.97 514.98,331.53 516.60,331.40 Z" fill="#56be48" stroke="#56be48" stroke-width="4.4" stroke-linejoin="round"/>
<path d="M522.90,342.80 C523.93,342.83 525.57,343.42 526.20,344.20 C526.83,344.98 526.98,346.50 526.70,347.50 C526.42,348.50 525.45,349.75 524.50,350.20 C523.55,350.65 521.90,350.70 521.00,350.20 C520.10,349.70 519.27,348.23 519.10,347.20 C518.93,346.17 519.37,344.73 520.00,344.00 C520.63,343.27 521.87,342.77 522.90,342.80 Z" fill="#56be48" stroke="#56be48" stroke-width="4.4" stroke-linejoin="round"/>
<path d="M516.60,331.40 C518.22,331.27 520.15,332.45 521.20,333.50 C522.25,334.55 522.75,336.22 522.90,337.70 C523.05,339.18 523.02,341.27 522.10,342.40 C521.18,343.53 518.95,344.37 517.40,344.50 C515.85,344.63 513.93,344.05 512.80,343.20 C511.67,342.35 510.82,340.88 510.60,339.40 C510.38,337.92 510.50,335.63 511.50,334.30 C512.50,332.97 514.98,331.53 516.60,331.40 Z" fill="#d8d434" stroke="#d8d434" stroke-width="1.3" stroke-linejoin="round"/>
<path d="M522.90,342.80 C523.93,342.83 525.57,343.42 526.20,344.20 C526.83,344.98 526.98,346.50 526.70,347.50 C526.42,348.50 525.45,349.75 524.50,350.20 C523.55,350.65 521.90,350.70 521.00,350.20 C520.10,349.70 519.27,348.23 519.10,347.20 C518.93,346.17 519.37,344.73 520.00,344.00 C520.63,343.27 521.87,342.77 522.90,342.80 Z" fill="#d8d434" stroke="#d8d434" stroke-width="1.3" stroke-linejoin="round"/>
<path d="M516.60,331.40 C518.22,331.27 520.15,332.45 521.20,333.50 C522.25,334.55 522.75,336.22 522.90,337.70 C523.05,339.18 523.02,341.27 522.10,342.40 C521.18,343.53 518.95,344.37 517.40,344.50 C515.85,344.63 513.93,344.05 512.80,343.20 C511.67,342.35 510.82,340.88 510.60,339.40 C510.38,337.92 510.50,335.63 511.50,334.30 C512.50,332.97 514.98,331.53 516.60,331.40 Z" fill="#dd2c28"/>
<path d="M522.90,342.80 C523.93,342.83 525.57,343.42 526.20,344.20 C526.83,344.98 526.98,346.50 526.70,347.50 C526.42,348.50 525.45,349.75 524.50,350.20 C523.55,350.65 521.90,350.70 521.00,350.20 C520.10,349.70 519.27,348.23 519.10,347.20 C518.93,346.17 519.37,344.73 520.00,344.00 C520.63,343.27 521.87,342.77 522.90,342.80 Z" fill="#dd2c28"/>
<rect x="518.5" y="342.6" width="3.6" height="2.4" fill="#dd2c28"/>
<circle cx="518" cy="345.6" r="1.1" fill="#e0d030"/>
</g>
<defs><linearGradient id="cbh" x1="0" y1="0" x2="0" y2="1"><stop offset="0" stop-color="#d62a2c"/><stop offset="0.07" stop-color="#d83a2a"/><stop offset="0.13" stop-color="#e2782c"/><stop offset="0.2" stop-color="#e6d234"/><stop offset="0.31" stop-color="#a8cc3c"/><stop offset="0.42" stop-color="#62ba46"/><stop offset="0.58" stop-color="#4cb25a"/><stop offset="0.68" stop-color="#3cb0c4"/><stop offset="0.77" stop-color="#3a7cc6"/><stop offset="0.86" stop-color="#3650b4"/><stop offset="1" stop-color="#3a2e94"/></linearGradient></defs>
<rect x="537.80" y="284.00" width="2.50" height="84.40" fill="url(#cbh)" />
<line x1="540.80" y1="285.00" x2="542.00" y2="285.00" stroke="#999" stroke-width="0.4"/>
<line x1="540.80" y1="297.00" x2="542.00" y2="297.00" stroke="#999" stroke-width="0.4"/>
<line x1="540.80" y1="310.00" x2="542.00" y2="310.00" stroke="#999" stroke-width="0.4"/>
<line x1="540.80" y1="322.00" x2="542.00" y2="322.00" stroke="#999" stroke-width="0.4"/>
<line x1="540.80" y1="335.00" x2="542.00" y2="335.00" stroke="#999" stroke-width="0.4"/>
<line x1="540.80" y1="347.00" x2="542.00" y2="347.00" stroke="#999" stroke-width="0.4"/>
<line x1="540.80" y1="360.00" x2="542.00" y2="360.00" stroke="#999" stroke-width="0.4"/>
<text x="536.50" y="282.00" font-size="2" fill="#888" textLength="13" lengthAdjust="spacingAndGlyphs" stroke="#888" stroke-width="0.18" >Luminescence</text>
<text x="537.00" y="371.50" font-size="1.8" fill="#777" stroke="#777" stroke-width="0.18" >Radiance</text>
<line x1="538.30" y1="378.20" x2="549.00" y2="378.20" stroke="#c4c4c4" stroke-width="0.6"/>
<line x1="538.30" y1="380.10" x2="549.00" y2="380.10" stroke="#c4c4c4" stroke-width="0.6"/>
<line x1="538.30" y1="382.00" x2="549.00" y2="382.00" stroke="#c4c4c4" stroke-width="0.6"/>
<text x="389.00" y="381.90" font-size="7.4" fill="#222" textLength="14.7" lengthAdjust="spacingAndGlyphs" stroke="#222" stroke-width="0.18" >Day 0</text>
<text x="427.30" y="380.40" font-size="7.4" fill="#222" textLength="18.6" lengthAdjust="spacingAndGlyphs" stroke="#222" stroke-width="0.18" >Day 30</text>
<text x="467.20" y="381.50" font-size="7.4" fill="#222" textLength="17.3" lengthAdjust="spacingAndGlyphs" stroke="#222" stroke-width="0.18" >Day 40</text>
<text x="505.10" y="381.50" font-size="7.4" fill="#222" textLength="18.0" lengthAdjust="spacingAndGlyphs" stroke="#222" stroke-width="0.18" >Day 50</text>
<rect x="537.30" y="376.60" width="12.70" height="6.80" fill="#fff" stroke="#b0b0b0" stroke-width="0.4" />
<text x="422.10" y="173.60" font-size="10.6" fill="#222" textLength="14.6" lengthAdjust="spacingAndGlyphs" stroke="#222" stroke-width="0.18" >Luz</text>
<text x="418.50" y="206.20" font-size="10.6" fill="#222" textLength="20.2" lengthAdjust="spacingAndGlyphs" stroke="#222" stroke-width="0.18" >hLuz</text>
</svg>
</body></html>
